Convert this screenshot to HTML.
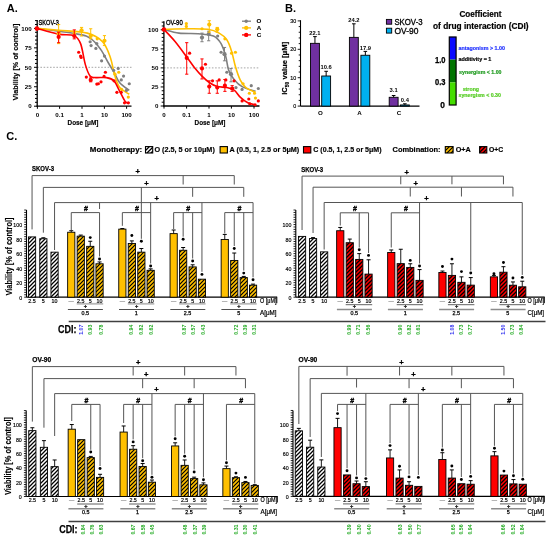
<!DOCTYPE html>
<html><head><meta charset="utf-8"><style>
html,body{margin:0;padding:0;background:#fff;}
svg{display:block;font-family:"Liberation Sans", sans-serif;will-change:transform;}
</style></head><body>
<svg width="550" height="538" viewBox="0 0 550 538">
<rect width="550" height="538" fill="#fff"/>
<text x="6.80" y="11.70" font-size="11.0" text-anchor="start" font-weight="bold" fill="#000" >A.</text>
<text x="285.00" y="11.70" font-size="11.0" text-anchor="start" font-weight="bold" fill="#000" >B.</text>
<text x="6.20" y="140.40" font-size="11.0" text-anchor="start" font-weight="bold" fill="#000" >C.</text>
<line x1="37.20" y1="67.30" x2="131.50" y2="67.30" stroke="#A6A6A6" stroke-width="1" stroke-dasharray="1.6,1.6"/>
<line x1="37.20" y1="19.90" x2="37.20" y2="106.70" stroke="#000" stroke-width="1.3" />
<line x1="36.60" y1="106.20" x2="131.50" y2="106.20" stroke="#000" stroke-width="1.3" />
<line x1="34.00" y1="106.20" x2="37.20" y2="106.20" stroke="#000" stroke-width="1.0" />
<line x1="35.00" y1="102.31" x2="37.20" y2="102.31" stroke="#000" stroke-width="1.0" />
<line x1="35.00" y1="98.42" x2="37.20" y2="98.42" stroke="#000" stroke-width="1.0" />
<line x1="35.00" y1="94.53" x2="37.20" y2="94.53" stroke="#000" stroke-width="1.0" />
<line x1="35.00" y1="90.64" x2="37.20" y2="90.64" stroke="#000" stroke-width="1.0" />
<line x1="34.00" y1="86.75" x2="37.20" y2="86.75" stroke="#000" stroke-width="1.0" />
<line x1="35.00" y1="82.86" x2="37.20" y2="82.86" stroke="#000" stroke-width="1.0" />
<line x1="35.00" y1="78.97" x2="37.20" y2="78.97" stroke="#000" stroke-width="1.0" />
<line x1="35.00" y1="75.08" x2="37.20" y2="75.08" stroke="#000" stroke-width="1.0" />
<line x1="35.00" y1="71.19" x2="37.20" y2="71.19" stroke="#000" stroke-width="1.0" />
<line x1="34.00" y1="67.30" x2="37.20" y2="67.30" stroke="#000" stroke-width="1.0" />
<line x1="35.00" y1="63.41" x2="37.20" y2="63.41" stroke="#000" stroke-width="1.0" />
<line x1="35.00" y1="59.52" x2="37.20" y2="59.52" stroke="#000" stroke-width="1.0" />
<line x1="35.00" y1="55.63" x2="37.20" y2="55.63" stroke="#000" stroke-width="1.0" />
<line x1="35.00" y1="51.74" x2="37.20" y2="51.74" stroke="#000" stroke-width="1.0" />
<line x1="34.00" y1="47.85" x2="37.20" y2="47.85" stroke="#000" stroke-width="1.0" />
<line x1="35.00" y1="43.96" x2="37.20" y2="43.96" stroke="#000" stroke-width="1.0" />
<line x1="35.00" y1="40.07" x2="37.20" y2="40.07" stroke="#000" stroke-width="1.0" />
<line x1="35.00" y1="36.18" x2="37.20" y2="36.18" stroke="#000" stroke-width="1.0" />
<line x1="35.00" y1="32.29" x2="37.20" y2="32.29" stroke="#000" stroke-width="1.0" />
<line x1="34.00" y1="28.40" x2="37.20" y2="28.40" stroke="#000" stroke-width="1.0" />
<line x1="35.00" y1="24.51" x2="37.20" y2="24.51" stroke="#000" stroke-width="1.0" />
<line x1="35.00" y1="20.62" x2="37.20" y2="20.62" stroke="#000" stroke-width="1.0" />
<text x="31.70" y="108.40" font-size="6.2" text-anchor="end" font-weight="bold" fill="#000" >0</text>
<text x="31.70" y="88.95" font-size="6.2" text-anchor="end" font-weight="bold" fill="#000" >25</text>
<text x="31.70" y="69.50" font-size="6.2" text-anchor="end" font-weight="bold" fill="#000" >50</text>
<text x="31.70" y="50.05" font-size="6.2" text-anchor="end" font-weight="bold" fill="#000" >75</text>
<text x="31.70" y="30.60" font-size="6.2" text-anchor="end" font-weight="bold" fill="#000" >100</text>
<line x1="37.40" y1="106.20" x2="37.40" y2="108.80" stroke="#000" stroke-width="1.0" />
<text x="37.40" y="116.70" font-size="6.2" text-anchor="middle" font-weight="bold" fill="#000" >0</text>
<line x1="59.60" y1="106.20" x2="59.60" y2="108.80" stroke="#000" stroke-width="1.0" />
<text x="59.60" y="116.70" font-size="6.2" text-anchor="middle" font-weight="bold" fill="#000" >0.1</text>
<line x1="82.00" y1="106.20" x2="82.00" y2="108.80" stroke="#000" stroke-width="1.0" />
<text x="82.00" y="116.70" font-size="6.2" text-anchor="middle" font-weight="bold" fill="#000" >1</text>
<line x1="104.40" y1="106.20" x2="104.40" y2="108.80" stroke="#000" stroke-width="1.0" />
<text x="104.40" y="116.70" font-size="6.2" text-anchor="middle" font-weight="bold" fill="#000" >10</text>
<line x1="126.60" y1="106.20" x2="126.60" y2="108.80" stroke="#000" stroke-width="1.0" />
<text x="126.60" y="116.70" font-size="6.2" text-anchor="middle" font-weight="bold" fill="#000" >100</text>
<text x="83.00" y="125.20" font-size="7.2" text-anchor="middle" font-weight="bold" fill="#000" stroke="#000" stroke-width="0.15" textLength="31.00" lengthAdjust="spacingAndGlyphs" >Dose [μM]</text>
<text x="18.20" y="62.00" font-size="8.0" text-anchor="middle" font-weight="bold" fill="#000" stroke="#000" stroke-width="0.15" textLength="77.00" lengthAdjust="spacingAndGlyphs" transform="rotate(-90 18.20 62.00)" >Viability [% of control]</text>
<text x="38.60" y="24.90" font-size="7.2" text-anchor="start" font-weight="normal" fill="#000" stroke="#000" stroke-width="0.35" textLength="20.20" lengthAdjust="spacingAndGlyphs" >SKOV-3</text>
<path d="M36.68,28.36 C43.52,29.32 68.66,32.34 77.73,34.09 C86.80,35.84 87.27,36.32 91.09,38.86 C94.91,41.41 97.77,45.39 100.64,49.36 C103.50,53.34 106.05,58.91 108.27,62.73 C110.50,66.55 112.09,68.93 114.00,72.27 C115.91,75.61 117.18,79.75 119.73,82.77 C122.27,85.80 127.68,89.14 129.27,90.41" stroke="#7F7F7F" stroke-width="1.6" fill="none" />
<path d="M36.68,28.36 C40.34,28.68 50.20,29.48 58.64,30.27 C67.07,31.07 79.96,31.23 87.27,33.14 C94.59,35.05 98.73,37.75 102.55,41.73 C106.37,45.71 108.12,51.27 110.18,57.00 C112.25,62.73 113.37,71.00 114.96,76.09 C116.55,81.18 117.34,84.52 119.73,87.55 C122.12,90.57 127.68,93.12 129.27,94.23" stroke="#FFC000" stroke-width="1.6" fill="none" />
<path d="M36.68,28.36 C40.34,29.32 52.43,32.88 58.64,34.09 C64.84,35.30 70.25,34.03 73.91,35.62 C77.57,37.21 78.68,38.80 80.59,43.64 C82.50,48.47 83.77,59.23 85.36,64.64 C86.96,70.05 88.39,73.93 90.14,76.09 C91.89,78.26 93.16,77.36 95.86,77.62 C98.57,77.87 103.34,77.08 106.37,77.62 C109.39,78.16 111.77,78.57 114.00,80.86 C116.23,83.16 117.82,87.86 119.73,91.37 C121.64,94.87 123.87,99.89 125.46,101.87 C127.05,103.84 128.64,102.98 129.27,103.20" stroke="#FF0000" stroke-width="1.6" fill="none" />
<circle cx="90.14" cy="41.73" r="1.6" fill="#7F7F7F" />
<circle cx="91.09" cy="45.55" r="1.6" fill="#7F7F7F" />
<circle cx="96.82" cy="43.64" r="1.6" fill="#7F7F7F" />
<circle cx="95.86" cy="48.41" r="1.6" fill="#7F7F7F" />
<circle cx="101.59" cy="60.82" r="1.6" fill="#7F7F7F" />
<circle cx="104.46" cy="56.05" r="1.6" fill="#7F7F7F" />
<circle cx="113.62" cy="70.36" r="1.6" fill="#7F7F7F" />
<circle cx="118.20" cy="68.46" r="1.6" fill="#7F7F7F" />
<circle cx="121.26" cy="79.91" r="1.6" fill="#7F7F7F" />
<circle cx="123.55" cy="76.09" r="1.6" fill="#7F7F7F" />
<circle cx="126.41" cy="90.41" r="1.6" fill="#7F7F7F" />
<circle cx="129.27" cy="83.73" r="1.6" fill="#7F7F7F" />
<line x1="58.64" y1="24.55" x2="58.64" y2="43.64" stroke="#FFC000" stroke-width="1.0" />
<line x1="57.04" y1="24.55" x2="60.24" y2="24.55" stroke="#FFC000" stroke-width="1.0" />
<line x1="57.04" y1="43.64" x2="60.24" y2="43.64" stroke="#FFC000" stroke-width="1.0" />
<circle cx="58.64" cy="33.14" r="2.1" fill="#FFC000" />
<circle cx="74.29" cy="33.14" r="1.6" fill="#FFC000" />
<line x1="81.55" y1="27.41" x2="81.55" y2="36.00" stroke="#FFC000" stroke-width="1.0" />
<line x1="79.95" y1="27.41" x2="83.15" y2="27.41" stroke="#FFC000" stroke-width="1.0" />
<line x1="79.95" y1="36.00" x2="83.15" y2="36.00" stroke="#FFC000" stroke-width="1.0" />
<circle cx="81.55" cy="30.27" r="2.1" fill="#FFC000" />
<line x1="90.71" y1="28.75" x2="90.71" y2="38.86" stroke="#FFC000" stroke-width="1.0" />
<line x1="89.11" y1="28.75" x2="92.31" y2="28.75" stroke="#FFC000" stroke-width="1.0" />
<line x1="89.11" y1="38.86" x2="92.31" y2="38.86" stroke="#FFC000" stroke-width="1.0" />
<circle cx="90.71" cy="36.00" r="2.1" fill="#FFC000" />
<circle cx="97.20" cy="38.86" r="1.6" fill="#FFC000" />
<line x1="104.46" y1="35.62" x2="104.46" y2="45.55" stroke="#FFC000" stroke-width="1.0" />
<line x1="102.86" y1="35.62" x2="106.06" y2="35.62" stroke="#FFC000" stroke-width="1.0" />
<line x1="102.86" y1="45.55" x2="106.06" y2="45.55" stroke="#FFC000" stroke-width="1.0" />
<circle cx="104.46" cy="40.77" r="2.1" fill="#FFC000" />
<circle cx="114.96" cy="74.18" r="1.6" fill="#FFC000" />
<circle cx="118.77" cy="72.27" r="1.6" fill="#FFC000" />
<circle cx="121.64" cy="89.46" r="1.6" fill="#FFC000" />
<circle cx="128.32" cy="97.09" r="1.6" fill="#FFC000" />
<line x1="58.64" y1="32.18" x2="58.64" y2="42.68" stroke="#FF0000" stroke-width="1.0" />
<line x1="57.04" y1="32.18" x2="60.24" y2="32.18" stroke="#FF0000" stroke-width="1.0" />
<line x1="57.04" y1="42.68" x2="60.24" y2="42.68" stroke="#FF0000" stroke-width="1.0" />
<circle cx="58.64" cy="36.95" r="2.1" fill="#FF0000" />
<line x1="74.29" y1="29.89" x2="74.29" y2="38.86" stroke="#FF0000" stroke-width="1.0" />
<line x1="72.69" y1="29.89" x2="75.89" y2="29.89" stroke="#FF0000" stroke-width="1.0" />
<line x1="72.69" y1="38.86" x2="75.89" y2="38.86" stroke="#FF0000" stroke-width="1.0" />
<circle cx="74.29" cy="36.00" r="2.1" fill="#FF0000" />
<circle cx="81.16" cy="57.38" r="1.6" fill="#FF0000" />
<circle cx="80.59" cy="56.05" r="1.6" fill="#FF0000" />
<circle cx="78.68" cy="52.23" r="1.6" fill="#FF0000" />
<circle cx="86.32" cy="77.05" r="1.6" fill="#FF0000" />
<line x1="90.71" y1="77.05" x2="90.71" y2="81.82" stroke="#FF0000" stroke-width="1.0" />
<line x1="89.11" y1="77.05" x2="92.31" y2="77.05" stroke="#FF0000" stroke-width="1.0" />
<line x1="89.11" y1="81.82" x2="92.31" y2="81.82" stroke="#FF0000" stroke-width="1.0" />
<circle cx="90.71" cy="79.91" r="2.1" fill="#FF0000" />
<circle cx="96.82" cy="84.11" r="1.6" fill="#FF0000" />
<circle cx="98.35" cy="83.73" r="1.6" fill="#FF0000" />
<circle cx="101.02" cy="81.82" r="1.6" fill="#FF0000" />
<circle cx="104.07" cy="76.47" r="1.6" fill="#FF0000" />
<circle cx="105.41" cy="72.27" r="1.6" fill="#FF0000" />
<circle cx="114.00" cy="80.86" r="1.6" fill="#FF0000" />
<circle cx="116.87" cy="92.32" r="1.6" fill="#FF0000" />
<circle cx="121.26" cy="92.32" r="1.6" fill="#FF0000" />
<circle cx="124.50" cy="102.82" r="1.6" fill="#FF0000" />
<circle cx="128.32" cy="102.82" r="1.6" fill="#FF0000" />
<circle cx="36.90" cy="28.60" r="2.3" fill="#FF0000" />
<line x1="163.90" y1="67.90" x2="259.50" y2="67.90" stroke="#A6A6A6" stroke-width="1" stroke-dasharray="1.6,1.6"/>
<line x1="163.90" y1="21.30" x2="163.90" y2="106.50" stroke="#000" stroke-width="1.3" />
<line x1="163.30" y1="106.00" x2="259.50" y2="106.00" stroke="#000" stroke-width="1.3" />
<line x1="160.70" y1="106.00" x2="163.90" y2="106.00" stroke="#000" stroke-width="1.0" />
<line x1="161.70" y1="102.19" x2="163.90" y2="102.19" stroke="#000" stroke-width="1.0" />
<line x1="161.70" y1="98.38" x2="163.90" y2="98.38" stroke="#000" stroke-width="1.0" />
<line x1="161.70" y1="94.57" x2="163.90" y2="94.57" stroke="#000" stroke-width="1.0" />
<line x1="161.70" y1="90.76" x2="163.90" y2="90.76" stroke="#000" stroke-width="1.0" />
<line x1="160.70" y1="86.95" x2="163.90" y2="86.95" stroke="#000" stroke-width="1.0" />
<line x1="161.70" y1="83.14" x2="163.90" y2="83.14" stroke="#000" stroke-width="1.0" />
<line x1="161.70" y1="79.33" x2="163.90" y2="79.33" stroke="#000" stroke-width="1.0" />
<line x1="161.70" y1="75.52" x2="163.90" y2="75.52" stroke="#000" stroke-width="1.0" />
<line x1="161.70" y1="71.71" x2="163.90" y2="71.71" stroke="#000" stroke-width="1.0" />
<line x1="160.70" y1="67.90" x2="163.90" y2="67.90" stroke="#000" stroke-width="1.0" />
<line x1="161.70" y1="64.09" x2="163.90" y2="64.09" stroke="#000" stroke-width="1.0" />
<line x1="161.70" y1="60.28" x2="163.90" y2="60.28" stroke="#000" stroke-width="1.0" />
<line x1="161.70" y1="56.47" x2="163.90" y2="56.47" stroke="#000" stroke-width="1.0" />
<line x1="161.70" y1="52.66" x2="163.90" y2="52.66" stroke="#000" stroke-width="1.0" />
<line x1="160.70" y1="48.85" x2="163.90" y2="48.85" stroke="#000" stroke-width="1.0" />
<line x1="161.70" y1="45.04" x2="163.90" y2="45.04" stroke="#000" stroke-width="1.0" />
<line x1="161.70" y1="41.23" x2="163.90" y2="41.23" stroke="#000" stroke-width="1.0" />
<line x1="161.70" y1="37.42" x2="163.90" y2="37.42" stroke="#000" stroke-width="1.0" />
<line x1="161.70" y1="33.61" x2="163.90" y2="33.61" stroke="#000" stroke-width="1.0" />
<line x1="160.70" y1="29.80" x2="163.90" y2="29.80" stroke="#000" stroke-width="1.0" />
<line x1="161.70" y1="25.99" x2="163.90" y2="25.99" stroke="#000" stroke-width="1.0" />
<line x1="161.70" y1="22.18" x2="163.90" y2="22.18" stroke="#000" stroke-width="1.0" />
<text x="158.40" y="108.20" font-size="6.2" text-anchor="end" font-weight="bold" fill="#000" >0</text>
<text x="158.40" y="89.15" font-size="6.2" text-anchor="end" font-weight="bold" fill="#000" >25</text>
<text x="158.40" y="70.10" font-size="6.2" text-anchor="end" font-weight="bold" fill="#000" >50</text>
<text x="158.40" y="51.05" font-size="6.2" text-anchor="end" font-weight="bold" fill="#000" >75</text>
<text x="158.40" y="32.00" font-size="6.2" text-anchor="end" font-weight="bold" fill="#000" >100</text>
<line x1="164.00" y1="106.00" x2="164.00" y2="108.60" stroke="#000" stroke-width="1.0" />
<text x="164.00" y="116.50" font-size="6.2" text-anchor="middle" font-weight="bold" fill="#000" >0</text>
<line x1="186.60" y1="106.00" x2="186.60" y2="108.60" stroke="#000" stroke-width="1.0" />
<text x="186.60" y="116.50" font-size="6.2" text-anchor="middle" font-weight="bold" fill="#000" >0.1</text>
<line x1="209.00" y1="106.00" x2="209.00" y2="108.60" stroke="#000" stroke-width="1.0" />
<text x="209.00" y="116.50" font-size="6.2" text-anchor="middle" font-weight="bold" fill="#000" >1</text>
<line x1="231.40" y1="106.00" x2="231.40" y2="108.60" stroke="#000" stroke-width="1.0" />
<text x="231.40" y="116.50" font-size="6.2" text-anchor="middle" font-weight="bold" fill="#000" >10</text>
<line x1="254.00" y1="106.00" x2="254.00" y2="108.60" stroke="#000" stroke-width="1.0" />
<text x="254.00" y="116.50" font-size="6.2" text-anchor="middle" font-weight="bold" fill="#000" >100</text>
<text x="210.00" y="125.00" font-size="7.2" text-anchor="middle" font-weight="bold" fill="#000" stroke="#000" stroke-width="0.15" textLength="31.00" lengthAdjust="spacingAndGlyphs" >Dose [μM]</text>
<text x="165.90" y="24.90" font-size="7.2" text-anchor="start" font-weight="normal" fill="#000" stroke="#000" stroke-width="0.35" textLength="16.80" lengthAdjust="spacingAndGlyphs" >OV-90</text>
<path d="M163.82,29.32 C166.36,29.95 173.36,32.40 179.09,33.14 C184.82,33.87 192.46,33.23 198.18,33.71 C203.91,34.19 209.64,34.35 213.46,36.00 C217.27,37.65 219.02,40.14 221.09,43.64 C223.16,47.14 224.59,52.55 225.86,57.00 C227.14,61.46 227.30,66.55 228.73,70.36 C230.16,74.18 232.23,77.21 234.46,79.91 C236.68,82.61 238.59,84.68 242.09,86.59 C245.59,88.50 253.23,90.57 255.46,91.37" stroke="#7F7F7F" stroke-width="1.6" fill="none" />
<path d="M163.82,29.32 C167.95,29.22 181.32,28.75 188.64,28.75 C195.96,28.75 202.64,28.59 207.73,29.32 C212.82,30.05 216.00,31.39 219.18,33.14 C222.36,34.89 224.75,36.80 226.82,39.82 C228.89,42.84 230.16,46.82 231.59,51.27 C233.02,55.73 233.98,61.77 235.41,66.55 C236.84,71.32 238.43,76.41 240.18,79.91 C241.93,83.41 243.37,85.48 245.91,87.55 C248.46,89.61 253.87,91.52 255.46,92.32" stroke="#FFC000" stroke-width="1.6" fill="none" />
<path d="M163.82,29.32 C165.73,31.39 171.45,37.11 175.27,41.73 C179.09,46.34 183.55,52.71 186.73,57.00 C189.91,61.30 191.82,64.32 194.36,67.50 C196.91,70.68 199.46,73.55 202.00,76.09 C204.55,78.64 207.09,81.02 209.64,82.77 C212.18,84.52 214.41,85.80 217.27,86.59 C220.14,87.39 223.96,86.91 226.82,87.55 C229.68,88.18 232.23,88.82 234.46,90.41 C236.68,92.00 237.96,95.02 240.18,97.09 C242.41,99.16 245.27,101.55 247.82,102.82 C250.37,104.09 254.18,104.41 255.46,104.73" stroke="#FF0000" stroke-width="1.6" fill="none" />
<line x1="202.00" y1="33.14" x2="202.00" y2="41.73" stroke="#7F7F7F" stroke-width="1.0" />
<line x1="200.40" y1="33.14" x2="203.60" y2="33.14" stroke="#7F7F7F" stroke-width="1.0" />
<line x1="200.40" y1="41.73" x2="203.60" y2="41.73" stroke="#7F7F7F" stroke-width="1.0" />
<circle cx="202.00" cy="37.53" r="2.1" fill="#7F7F7F" />
<line x1="208.68" y1="31.23" x2="208.68" y2="40.77" stroke="#7F7F7F" stroke-width="1.0" />
<line x1="207.08" y1="31.23" x2="210.28" y2="31.23" stroke="#7F7F7F" stroke-width="1.0" />
<line x1="207.08" y1="40.77" x2="210.28" y2="40.77" stroke="#7F7F7F" stroke-width="1.0" />
<circle cx="208.68" cy="34.09" r="2.1" fill="#7F7F7F" />
<circle cx="217.66" cy="36.00" r="1.6" fill="#7F7F7F" />
<circle cx="221.09" cy="52.23" r="1.6" fill="#7F7F7F" />
<line x1="224.53" y1="47.46" x2="224.53" y2="60.82" stroke="#7F7F7F" stroke-width="1.0" />
<line x1="222.93" y1="47.46" x2="226.13" y2="47.46" stroke="#7F7F7F" stroke-width="1.0" />
<line x1="222.93" y1="60.82" x2="226.13" y2="60.82" stroke="#7F7F7F" stroke-width="1.0" />
<circle cx="224.53" cy="54.14" r="2.1" fill="#7F7F7F" />
<circle cx="226.82" cy="72.27" r="1.6" fill="#7F7F7F" />
<line x1="231.02" y1="68.46" x2="231.02" y2="81.82" stroke="#7F7F7F" stroke-width="1.0" />
<line x1="229.42" y1="68.46" x2="232.62" y2="68.46" stroke="#7F7F7F" stroke-width="1.0" />
<line x1="229.42" y1="81.82" x2="232.62" y2="81.82" stroke="#7F7F7F" stroke-width="1.0" />
<circle cx="231.02" cy="74.18" r="2.1" fill="#7F7F7F" />
<circle cx="235.98" cy="87.55" r="1.6" fill="#7F7F7F" />
<circle cx="242.09" cy="89.46" r="1.6" fill="#7F7F7F" />
<circle cx="251.26" cy="85.64" r="1.6" fill="#7F7F7F" />
<circle cx="258.32" cy="88.50" r="1.6" fill="#7F7F7F" />
<circle cx="186.35" cy="23.59" r="1.6" fill="#FFC000" />
<circle cx="186.35" cy="26.45" r="1.6" fill="#FFC000" />
<circle cx="202.00" cy="28.75" r="1.6" fill="#FFC000" />
<line x1="209.26" y1="20.73" x2="209.26" y2="32.18" stroke="#FFC000" stroke-width="1.0" />
<line x1="207.66" y1="20.73" x2="210.86" y2="20.73" stroke="#FFC000" stroke-width="1.0" />
<line x1="207.66" y1="32.18" x2="210.86" y2="32.18" stroke="#FFC000" stroke-width="1.0" />
<circle cx="209.26" cy="24.55" r="2.1" fill="#FFC000" />
<line x1="217.27" y1="27.41" x2="217.27" y2="32.18" stroke="#FFC000" stroke-width="1.0" />
<line x1="215.67" y1="27.41" x2="218.87" y2="27.41" stroke="#FFC000" stroke-width="1.0" />
<line x1="215.67" y1="32.18" x2="218.87" y2="32.18" stroke="#FFC000" stroke-width="1.0" />
<circle cx="217.27" cy="29.32" r="2.1" fill="#FFC000" />
<circle cx="224.91" cy="38.86" r="1.6" fill="#FFC000" />
<circle cx="231.59" cy="53.18" r="1.6" fill="#FFC000" />
<circle cx="235.41" cy="52.23" r="1.6" fill="#FFC000" />
<circle cx="243.05" cy="83.73" r="1.6" fill="#FFC000" />
<circle cx="249.35" cy="93.27" r="1.6" fill="#FFC000" />
<circle cx="254.50" cy="93.27" r="1.6" fill="#FFC000" />
<circle cx="255.46" cy="98.05" r="1.6" fill="#FFC000" />
<line x1="186.73" y1="42.68" x2="186.73" y2="74.18" stroke="#FF0000" stroke-width="1.0" />
<line x1="185.13" y1="42.68" x2="188.33" y2="42.68" stroke="#FF0000" stroke-width="1.0" />
<line x1="185.13" y1="74.18" x2="188.33" y2="74.18" stroke="#FF0000" stroke-width="1.0" />
<circle cx="186.73" cy="57.96" r="2.1" fill="#FF0000" />
<circle cx="189.59" cy="53.18" r="1.6" fill="#FF0000" />
<line x1="202.00" y1="58.91" x2="202.00" y2="78.96" stroke="#FF0000" stroke-width="1.0" />
<line x1="200.40" y1="58.91" x2="203.60" y2="58.91" stroke="#FF0000" stroke-width="1.0" />
<line x1="200.40" y1="78.96" x2="203.60" y2="78.96" stroke="#FF0000" stroke-width="1.0" />
<circle cx="202.00" cy="68.46" r="2.1" fill="#FF0000" />
<circle cx="205.44" cy="64.26" r="1.6" fill="#FF0000" />
<line x1="209.26" y1="80.86" x2="209.26" y2="93.27" stroke="#FF0000" stroke-width="1.0" />
<line x1="207.66" y1="80.86" x2="210.86" y2="80.86" stroke="#FF0000" stroke-width="1.0" />
<line x1="207.66" y1="93.27" x2="210.86" y2="93.27" stroke="#FF0000" stroke-width="1.0" />
<circle cx="209.26" cy="86.59" r="2.1" fill="#FF0000" />
<circle cx="212.50" cy="80.86" r="1.6" fill="#FF0000" />
<line x1="217.27" y1="80.86" x2="217.27" y2="93.27" stroke="#FF0000" stroke-width="1.0" />
<line x1="215.67" y1="80.86" x2="218.87" y2="80.86" stroke="#FF0000" stroke-width="1.0" />
<line x1="215.67" y1="93.27" x2="218.87" y2="93.27" stroke="#FF0000" stroke-width="1.0" />
<circle cx="217.27" cy="87.55" r="2.1" fill="#FF0000" />
<circle cx="219.18" cy="79.91" r="1.6" fill="#FF0000" />
<line x1="224.91" y1="79.53" x2="224.91" y2="91.37" stroke="#FF0000" stroke-width="1.0" />
<line x1="223.31" y1="79.53" x2="226.51" y2="79.53" stroke="#FF0000" stroke-width="1.0" />
<line x1="223.31" y1="91.37" x2="226.51" y2="91.37" stroke="#FF0000" stroke-width="1.0" />
<circle cx="224.91" cy="85.64" r="2.1" fill="#FF0000" />
<circle cx="225.86" cy="79.91" r="1.6" fill="#FF0000" />
<line x1="232.16" y1="85.64" x2="232.16" y2="91.37" stroke="#FF0000" stroke-width="1.0" />
<line x1="230.56" y1="85.64" x2="233.76" y2="85.64" stroke="#FF0000" stroke-width="1.0" />
<line x1="230.56" y1="91.37" x2="233.76" y2="91.37" stroke="#FF0000" stroke-width="1.0" />
<circle cx="232.16" cy="88.50" r="2.1" fill="#FF0000" />
<circle cx="234.07" cy="80.86" r="1.6" fill="#FF0000" />
<circle cx="242.09" cy="100.91" r="1.6" fill="#FF0000" />
<circle cx="248.77" cy="99.00" r="1.6" fill="#FF0000" />
<circle cx="249.73" cy="103.77" r="1.6" fill="#FF0000" />
<circle cx="255.07" cy="104.73" r="1.6" fill="#FF0000" />
<circle cx="258.32" cy="100.91" r="1.6" fill="#FF0000" />
<circle cx="163.90" cy="29.50" r="2.3" fill="#FF0000" />
<line x1="242.00" y1="21.20" x2="251.00" y2="21.20" stroke="#7F7F7F" stroke-width="1.3" />
<circle cx="246.20" cy="21.20" r="1.7" fill="#7F7F7F" />
<text x="258.90" y="23.40" font-size="6.2" text-anchor="middle" font-weight="bold" fill="#000" stroke="#000" stroke-width="0.1" >O</text>
<line x1="242.00" y1="27.90" x2="251.00" y2="27.90" stroke="#FFC000" stroke-width="1.3" />
<circle cx="246.20" cy="27.90" r="2.1" fill="#FFC000" />
<text x="258.90" y="30.10" font-size="6.2" text-anchor="middle" font-weight="bold" fill="#000" stroke="#000" stroke-width="0.1" >A</text>
<line x1="242.00" y1="34.90" x2="251.00" y2="34.90" stroke="#FF0000" stroke-width="1.3" />
<circle cx="246.20" cy="34.90" r="2.2" fill="#FF0000" />
<text x="258.90" y="37.10" font-size="6.2" text-anchor="middle" font-weight="bold" fill="#000" stroke="#000" stroke-width="0.1" >C</text>
<line x1="300.50" y1="20.20" x2="300.50" y2="106.10" stroke="#000" stroke-width="1.1" />
<line x1="300.50" y1="106.10" x2="419.50" y2="106.10" stroke="#000" stroke-width="1.1" />
<line x1="297.70" y1="106.10" x2="300.50" y2="106.10" stroke="#000" stroke-width="0.9" />
<line x1="298.70" y1="100.42" x2="300.50" y2="100.42" stroke="#000" stroke-width="0.9" />
<line x1="298.70" y1="94.74" x2="300.50" y2="94.74" stroke="#000" stroke-width="0.9" />
<line x1="298.70" y1="89.06" x2="300.50" y2="89.06" stroke="#000" stroke-width="0.9" />
<line x1="298.70" y1="83.38" x2="300.50" y2="83.38" stroke="#000" stroke-width="0.9" />
<line x1="297.70" y1="77.70" x2="300.50" y2="77.70" stroke="#000" stroke-width="0.9" />
<line x1="298.70" y1="72.02" x2="300.50" y2="72.02" stroke="#000" stroke-width="0.9" />
<line x1="298.70" y1="66.34" x2="300.50" y2="66.34" stroke="#000" stroke-width="0.9" />
<line x1="298.70" y1="60.66" x2="300.50" y2="60.66" stroke="#000" stroke-width="0.9" />
<line x1="298.70" y1="54.98" x2="300.50" y2="54.98" stroke="#000" stroke-width="0.9" />
<line x1="297.70" y1="49.30" x2="300.50" y2="49.30" stroke="#000" stroke-width="0.9" />
<line x1="298.70" y1="43.62" x2="300.50" y2="43.62" stroke="#000" stroke-width="0.9" />
<line x1="298.70" y1="37.94" x2="300.50" y2="37.94" stroke="#000" stroke-width="0.9" />
<line x1="298.70" y1="32.26" x2="300.50" y2="32.26" stroke="#000" stroke-width="0.9" />
<line x1="298.70" y1="26.58" x2="300.50" y2="26.58" stroke="#000" stroke-width="0.9" />
<line x1="297.70" y1="20.90" x2="300.50" y2="20.90" stroke="#000" stroke-width="0.9" />
<text x="296.20" y="108.10" font-size="5.4" text-anchor="end" font-weight="normal" fill="#000" stroke="#000" stroke-width="0.15" >0</text>
<text x="296.20" y="79.70" font-size="5.4" text-anchor="end" font-weight="normal" fill="#000" stroke="#000" stroke-width="0.15" >10</text>
<text x="296.20" y="51.30" font-size="5.4" text-anchor="end" font-weight="normal" fill="#000" stroke="#000" stroke-width="0.15" >20</text>
<text x="296.20" y="22.90" font-size="5.4" text-anchor="end" font-weight="normal" fill="#000" stroke="#000" stroke-width="0.15" >30</text>
<text x="286.8" y="68.3" font-size="7.8" font-weight="bold" text-anchor="middle" stroke="#000" stroke-width="0.2" transform="rotate(-90 286.8 68.3)" textLength="53" lengthAdjust="spacingAndGlyphs">IC<tspan font-size="5" dy="1.8">50</tspan><tspan dy="-1.8"> value [μM]</tspan></text>
<line x1="314.95" y1="36.60" x2="314.95" y2="43.34" stroke="#000" stroke-width="1.0" />
<line x1="313.15" y1="36.60" x2="316.75" y2="36.60" stroke="#000" stroke-width="1.0" />
<rect x="310.50" y="43.34" width="8.90" height="62.76" fill="#7030A0" stroke="#000" stroke-width="0.9" />
<text x="314.95" y="34.80" font-size="5.8" text-anchor="middle" font-weight="bold" fill="#000" >22.1</text>
<line x1="326.15" y1="71.30" x2="326.15" y2="76.00" stroke="#000" stroke-width="1.0" />
<line x1="324.35" y1="71.30" x2="327.95" y2="71.30" stroke="#000" stroke-width="1.0" />
<rect x="321.70" y="76.00" width="8.90" height="30.10" fill="#00B0F0" stroke="#000" stroke-width="0.9" />
<text x="326.15" y="69.00" font-size="5.8" text-anchor="middle" font-weight="bold" fill="#000" >10.6</text>
<line x1="353.85" y1="23.80" x2="353.85" y2="37.37" stroke="#000" stroke-width="1.0" />
<line x1="352.05" y1="23.80" x2="355.65" y2="23.80" stroke="#000" stroke-width="1.0" />
<rect x="349.40" y="37.37" width="8.90" height="68.73" fill="#7030A0" stroke="#000" stroke-width="0.9" />
<text x="353.85" y="21.70" font-size="5.8" text-anchor="middle" font-weight="bold" fill="#000" >24.2</text>
<line x1="365.35" y1="51.40" x2="365.35" y2="55.26" stroke="#000" stroke-width="1.0" />
<line x1="363.55" y1="51.40" x2="367.15" y2="51.40" stroke="#000" stroke-width="1.0" />
<rect x="360.90" y="55.26" width="8.90" height="50.84" fill="#00B0F0" stroke="#000" stroke-width="0.9" />
<text x="365.35" y="49.70" font-size="5.8" text-anchor="middle" font-weight="bold" fill="#000" >17.9</text>
<line x1="393.65" y1="95.50" x2="393.65" y2="97.30" stroke="#000" stroke-width="1.0" />
<line x1="391.85" y1="95.50" x2="395.45" y2="95.50" stroke="#000" stroke-width="1.0" />
<rect x="389.20" y="97.30" width="8.90" height="8.80" fill="#7030A0" stroke="#000" stroke-width="0.9" />
<text x="393.65" y="92.20" font-size="5.8" text-anchor="middle" font-weight="bold" fill="#000" >3.1</text>
<line x1="404.85" y1="103.80" x2="404.85" y2="104.96" stroke="#000" stroke-width="1.0" />
<line x1="403.05" y1="103.80" x2="406.65" y2="103.80" stroke="#000" stroke-width="1.0" />
<rect x="400.40" y="104.96" width="8.90" height="1.14" fill="#00B0F0" stroke="#000" stroke-width="0.9" />
<text x="404.85" y="101.60" font-size="5.8" text-anchor="middle" font-weight="bold" fill="#000" >0.4</text>
<text x="320.50" y="114.60" font-size="6.2" text-anchor="middle" font-weight="bold" fill="#000" >O</text>
<text x="359.50" y="114.60" font-size="6.2" text-anchor="middle" font-weight="bold" fill="#000" >A</text>
<text x="399.00" y="114.60" font-size="6.2" text-anchor="middle" font-weight="bold" fill="#000" >C</text>
<rect x="386.40" y="19.40" width="5.30" height="4.80" fill="#7030A0" stroke="#000" stroke-width="0.9" />
<rect x="386.40" y="28.20" width="5.30" height="4.90" fill="#00B0F0" stroke="#000" stroke-width="0.9" />
<text x="394.40" y="25.10" font-size="8.6" text-anchor="start" font-weight="normal" fill="#000" stroke="#000" stroke-width="0.3" textLength="28.20" lengthAdjust="spacingAndGlyphs" >SKOV-3</text>
<text x="394.40" y="33.80" font-size="8.6" text-anchor="start" font-weight="normal" fill="#000" stroke="#000" stroke-width="0.3" textLength="24.00" lengthAdjust="spacingAndGlyphs" >OV-90</text>
<text x="480.50" y="16.60" font-size="8.6" text-anchor="middle" font-weight="bold" fill="#000" stroke="#000" stroke-width="0.2" textLength="42.00" lengthAdjust="spacingAndGlyphs" >Coefficient</text>
<text x="480.80" y="29.00" font-size="8.6" text-anchor="middle" font-weight="bold" fill="#000" stroke="#000" stroke-width="0.2" textLength="95.50" lengthAdjust="spacingAndGlyphs" >of drug interaction (CDI)</text>
<rect x="449.40" y="36.90" width="6.60" height="22.70" fill="#0A0AFF" stroke="none" stroke-width="1" />
<rect x="449.40" y="59.60" width="6.60" height="22.80" fill="#007400" stroke="none" stroke-width="1" />
<rect x="449.40" y="82.40" width="6.60" height="22.60" fill="#44DD00" stroke="none" stroke-width="1" />
<rect x="449.3" y="37.0" width="6.8" height="68.0" fill="none" stroke="#000" stroke-width="1.2"/>
<text x="445.50" y="63.10" font-size="8.4" text-anchor="end" font-weight="bold" fill="#000" stroke="#000" stroke-width="0.25" textLength="10.50" lengthAdjust="spacingAndGlyphs" >1.0</text>
<text x="445.50" y="85.30" font-size="8.4" text-anchor="end" font-weight="bold" fill="#000" stroke="#000" stroke-width="0.25" textLength="10.50" lengthAdjust="spacingAndGlyphs" >0.3</text>
<text x="445.00" y="107.50" font-size="8.4" text-anchor="end" font-weight="bold" fill="#000" stroke="#000" stroke-width="0.25" >0</text>
<text x="458.50" y="49.50" font-size="5.8" text-anchor="start" font-weight="bold" fill="#2233FF" stroke="#2233FF" stroke-width="0.2" textLength="46.40" lengthAdjust="spacingAndGlyphs" >antagonism &gt; 1.00</text>
<text x="458.50" y="61.20" font-size="5.8" text-anchor="start" font-weight="bold" fill="#000" stroke="#000" stroke-width="0.2" textLength="32.80" lengthAdjust="spacingAndGlyphs" >additivity = 1</text>
<text x="459.10" y="74.30" font-size="5.8" text-anchor="start" font-weight="bold" fill="#1E9A1E" stroke="#1E9A1E" stroke-width="0.2" textLength="42.40" lengthAdjust="spacingAndGlyphs" >synergism &lt; 1.00</text>
<text x="462.70" y="91.20" font-size="5.8" text-anchor="start" font-weight="bold" fill="#55CC22" stroke="#55CC22" stroke-width="0.2" textLength="16.40" lengthAdjust="spacingAndGlyphs" >strong</text>
<text x="458.50" y="97.20" font-size="5.8" text-anchor="start" font-weight="bold" fill="#55CC22" stroke="#55CC22" stroke-width="0.2" textLength="42.40" lengthAdjust="spacingAndGlyphs" >synergism &lt; 0.30</text>
<defs><pattern id="hw" patternUnits="userSpaceOnUse" width="4" height="4"><rect width="4" height="4" fill="#fff"/><path d="M-1,1 L1,-1 M0,4 L4,0 M3,5 L5,3" stroke="#000" stroke-width="1.25"/></pattern><pattern id="hy" patternUnits="userSpaceOnUse" width="4" height="4"><rect width="4" height="4" fill="#FFC000"/><path d="M-1,1 L1,-1 M0,4 L4,0 M3,5 L5,3" stroke="#000" stroke-width="1.2"/></pattern><pattern id="hr" patternUnits="userSpaceOnUse" width="4" height="4"><rect width="4" height="4" fill="#FF0000"/><path d="M-1,1 L1,-1 M0,4 L4,0 M3,5 L5,3" stroke="#000" stroke-width="1.3"/></pattern></defs>
<text x="89.80" y="151.60" font-size="8.0" text-anchor="start" font-weight="bold" fill="#000" stroke="#000" stroke-width="0.2" textLength="52.40" lengthAdjust="spacingAndGlyphs" >Monotherapy:</text>
<rect x="145.50" y="146.60" width="7.20" height="6.40" fill="url(#hw)" stroke="#000" stroke-width="1.1" />
<text x="154.40" y="151.60" font-size="6.6" text-anchor="start" font-weight="bold" fill="#000" stroke="#000" stroke-width="0.15" textLength="60.40" lengthAdjust="spacingAndGlyphs" >O (2.5, 5 or 10μM)</text>
<rect x="220.10" y="146.60" width="7.30" height="6.40" fill="#FFC000" stroke="#000" stroke-width="1.1" />
<text x="229.50" y="151.60" font-size="6.6" text-anchor="start" font-weight="bold" fill="#000" stroke="#000" stroke-width="0.15" textLength="69.80" lengthAdjust="spacingAndGlyphs" >A (0.5, 1, 2.5 or 5μM)</text>
<rect x="303.50" y="146.60" width="7.30" height="6.40" fill="#FF0000" stroke="#000" stroke-width="1.1" />
<text x="313.30" y="151.60" font-size="6.6" text-anchor="start" font-weight="bold" fill="#000" stroke="#000" stroke-width="0.15" textLength="68.30" lengthAdjust="spacingAndGlyphs" >C (0.5, 1, 2.5 or 5μM)</text>
<text x="392.50" y="151.60" font-size="8.0" text-anchor="start" font-weight="bold" fill="#000" stroke="#000" stroke-width="0.2" textLength="48.00" lengthAdjust="spacingAndGlyphs" >Combination:</text>
<rect x="445.30" y="146.60" width="7.80" height="6.40" fill="url(#hy)" stroke="#000" stroke-width="1.1" />
<text x="455.70" y="151.60" font-size="6.6" text-anchor="start" font-weight="bold" fill="#000" stroke="#000" stroke-width="0.15" textLength="15.10" lengthAdjust="spacingAndGlyphs" >O+A</text>
<rect x="479.60" y="146.60" width="7.20" height="6.40" fill="url(#hr)" stroke="#000" stroke-width="1.1" />
<text x="488.90" y="151.60" font-size="6.6" text-anchor="start" font-weight="bold" fill="#000" stroke="#000" stroke-width="0.15" textLength="14.20" lengthAdjust="spacingAndGlyphs" >O+C</text>
<text x="32.00" y="171.00" font-size="7.4" text-anchor="start" font-weight="bold" fill="#000" stroke="#000" stroke-width="0.25" textLength="22.00" lengthAdjust="spacingAndGlyphs" >SKOV-3</text>
<line x1="26.50" y1="210.02" x2="26.50" y2="297.20" stroke="#000" stroke-width="1.1" />
<line x1="24.20" y1="297.20" x2="26.50" y2="297.20" stroke="#000" stroke-width="0.85" />
<line x1="24.20" y1="294.78" x2="26.50" y2="294.78" stroke="#000" stroke-width="0.85" />
<line x1="24.20" y1="292.36" x2="26.50" y2="292.36" stroke="#000" stroke-width="0.85" />
<line x1="24.20" y1="289.94" x2="26.50" y2="289.94" stroke="#000" stroke-width="0.85" />
<line x1="24.20" y1="287.51" x2="26.50" y2="287.51" stroke="#000" stroke-width="0.85" />
<line x1="24.20" y1="285.09" x2="26.50" y2="285.09" stroke="#000" stroke-width="0.85" />
<line x1="24.20" y1="282.67" x2="26.50" y2="282.67" stroke="#000" stroke-width="0.85" />
<line x1="24.20" y1="280.25" x2="26.50" y2="280.25" stroke="#000" stroke-width="0.85" />
<line x1="24.20" y1="277.83" x2="26.50" y2="277.83" stroke="#000" stroke-width="0.85" />
<line x1="24.20" y1="275.40" x2="26.50" y2="275.40" stroke="#000" stroke-width="0.85" />
<line x1="24.20" y1="272.98" x2="26.50" y2="272.98" stroke="#000" stroke-width="0.85" />
<line x1="24.20" y1="270.56" x2="26.50" y2="270.56" stroke="#000" stroke-width="0.85" />
<line x1="24.20" y1="268.14" x2="26.50" y2="268.14" stroke="#000" stroke-width="0.85" />
<line x1="24.20" y1="265.72" x2="26.50" y2="265.72" stroke="#000" stroke-width="0.85" />
<line x1="24.20" y1="263.30" x2="26.50" y2="263.30" stroke="#000" stroke-width="0.85" />
<line x1="24.20" y1="260.88" x2="26.50" y2="260.88" stroke="#000" stroke-width="0.85" />
<line x1="24.20" y1="258.45" x2="26.50" y2="258.45" stroke="#000" stroke-width="0.85" />
<line x1="24.20" y1="256.03" x2="26.50" y2="256.03" stroke="#000" stroke-width="0.85" />
<line x1="24.20" y1="253.61" x2="26.50" y2="253.61" stroke="#000" stroke-width="0.85" />
<line x1="24.20" y1="251.19" x2="26.50" y2="251.19" stroke="#000" stroke-width="0.85" />
<line x1="24.20" y1="248.77" x2="26.50" y2="248.77" stroke="#000" stroke-width="0.85" />
<line x1="24.20" y1="246.34" x2="26.50" y2="246.34" stroke="#000" stroke-width="0.85" />
<line x1="24.20" y1="243.92" x2="26.50" y2="243.92" stroke="#000" stroke-width="0.85" />
<line x1="24.20" y1="241.50" x2="26.50" y2="241.50" stroke="#000" stroke-width="0.85" />
<line x1="24.20" y1="239.08" x2="26.50" y2="239.08" stroke="#000" stroke-width="0.85" />
<line x1="24.20" y1="236.66" x2="26.50" y2="236.66" stroke="#000" stroke-width="0.85" />
<line x1="24.20" y1="234.24" x2="26.50" y2="234.24" stroke="#000" stroke-width="0.85" />
<line x1="24.20" y1="231.81" x2="26.50" y2="231.81" stroke="#000" stroke-width="0.85" />
<line x1="24.20" y1="229.39" x2="26.50" y2="229.39" stroke="#000" stroke-width="0.85" />
<line x1="24.20" y1="226.97" x2="26.50" y2="226.97" stroke="#000" stroke-width="0.85" />
<line x1="24.20" y1="224.55" x2="26.50" y2="224.55" stroke="#000" stroke-width="0.85" />
<line x1="24.20" y1="222.13" x2="26.50" y2="222.13" stroke="#000" stroke-width="0.85" />
<line x1="24.20" y1="219.71" x2="26.50" y2="219.71" stroke="#000" stroke-width="0.85" />
<line x1="24.20" y1="217.28" x2="26.50" y2="217.28" stroke="#000" stroke-width="0.85" />
<line x1="24.20" y1="214.86" x2="26.50" y2="214.86" stroke="#000" stroke-width="0.85" />
<line x1="24.20" y1="212.44" x2="26.50" y2="212.44" stroke="#000" stroke-width="0.85" />
<line x1="24.20" y1="210.02" x2="26.50" y2="210.02" stroke="#000" stroke-width="0.85" />
<text x="22.10" y="299.70" font-size="5.3" text-anchor="end" font-weight="normal" fill="#000" stroke="#000" stroke-width="0.15" >0</text>
<text x="22.10" y="285.17" font-size="5.3" text-anchor="end" font-weight="normal" fill="#000" stroke="#000" stroke-width="0.15" >20</text>
<text x="22.10" y="270.64" font-size="5.3" text-anchor="end" font-weight="normal" fill="#000" stroke="#000" stroke-width="0.15" >40</text>
<text x="22.10" y="256.11" font-size="5.3" text-anchor="end" font-weight="normal" fill="#000" stroke="#000" stroke-width="0.15" >60</text>
<text x="22.10" y="241.58" font-size="5.3" text-anchor="end" font-weight="normal" fill="#000" stroke="#000" stroke-width="0.15" >80</text>
<text x="22.10" y="227.05" font-size="5.3" text-anchor="end" font-weight="normal" fill="#000" stroke="#000" stroke-width="0.15" >100</text>
<text x="11.60" y="256.50" font-size="8.2" text-anchor="middle" font-weight="bold" fill="#000" stroke="#000" stroke-width="0.15" textLength="78.00" lengthAdjust="spacingAndGlyphs" transform="rotate(-90 11.60 256.50)" >Viability [% of control]</text>
<line x1="26.50" y1="297.20" x2="276.80" y2="297.20" stroke="#000" stroke-width="1.2" />
<line x1="276.80" y1="296.70" x2="276.80" y2="303.20" stroke="#000" stroke-width="1.0" />
<rect x="28.45" y="236.90" width="7.20" height="60.30" fill="url(#hw)" stroke="#000" stroke-width="0.9" />
<text x="32.05" y="303.00" font-size="5.3" text-anchor="middle" font-weight="normal" fill="#000" stroke="#000" stroke-width="0.2" >2.5</text>
<line x1="43.35" y1="237.77" x2="43.35" y2="238.72" stroke="#000" stroke-width="0.9" />
<line x1="41.35" y1="237.77" x2="45.35" y2="237.77" stroke="#000" stroke-width="1.0" />
<rect x="39.75" y="238.72" width="7.20" height="58.48" fill="url(#hw)" stroke="#000" stroke-width="0.9" />
<text x="43.35" y="303.00" font-size="5.3" text-anchor="middle" font-weight="normal" fill="#000" stroke="#000" stroke-width="0.2" >5</text>
<rect x="50.95" y="252.16" width="7.20" height="45.04" fill="url(#hw)" stroke="#000" stroke-width="0.9" />
<text x="54.55" y="303.00" font-size="5.3" text-anchor="middle" font-weight="normal" fill="#000" stroke="#000" stroke-width="0.2" >10</text>
<line x1="71.25" y1="230.73" x2="71.25" y2="232.25" stroke="#000" stroke-width="0.9" />
<line x1="69.25" y1="230.73" x2="73.25" y2="230.73" stroke="#000" stroke-width="1.0" />
<rect x="67.65" y="232.25" width="7.20" height="64.95" fill="#FFC000" stroke="#000" stroke-width="0.9" />
<text x="71.25" y="303.00" font-size="5.3" text-anchor="middle" font-weight="normal" fill="#999" stroke="#999" stroke-width="0.2" >—</text>
<line x1="80.75" y1="235.08" x2="80.75" y2="236.17" stroke="#000" stroke-width="0.9" />
<line x1="78.75" y1="235.08" x2="82.75" y2="235.08" stroke="#000" stroke-width="1.0" />
<rect x="77.15" y="236.17" width="7.20" height="61.03" fill="url(#hy)" stroke="#000" stroke-width="0.9" />
<text x="80.75" y="303.00" font-size="5.3" text-anchor="middle" font-weight="normal" fill="#000" stroke="#000" stroke-width="0.2" >2.5</text>
<line x1="90.25" y1="241.26" x2="90.25" y2="246.34" stroke="#000" stroke-width="0.9" />
<line x1="88.25" y1="241.26" x2="92.25" y2="241.26" stroke="#000" stroke-width="1.0" />
<circle cx="90.25" cy="237.60" r="1.45" fill="#000" />
<rect x="86.65" y="246.34" width="7.20" height="50.86" fill="url(#hy)" stroke="#000" stroke-width="0.9" />
<text x="90.25" y="303.00" font-size="5.3" text-anchor="middle" font-weight="normal" fill="#000" stroke="#000" stroke-width="0.2" >5</text>
<line x1="99.55" y1="261.96" x2="99.55" y2="263.78" stroke="#000" stroke-width="0.9" />
<line x1="97.55" y1="261.96" x2="101.55" y2="261.96" stroke="#000" stroke-width="1.0" />
<circle cx="99.55" cy="259.00" r="1.45" fill="#000" />
<rect x="95.95" y="263.78" width="7.20" height="33.42" fill="url(#hy)" stroke="#000" stroke-width="0.9" />
<text x="99.55" y="303.00" font-size="5.3" text-anchor="middle" font-weight="normal" fill="#000" stroke="#000" stroke-width="0.2" >10</text>
<line x1="76.70" y1="303.80" x2="103.20" y2="303.80" stroke="#B8B8B8" stroke-width="1.8" />
<text x="85.45" y="308.30" font-size="5.6" text-anchor="middle" font-weight="bold" fill="#000" stroke="#000" stroke-width="0.2" >+</text>
<line x1="67.90" y1="309.50" x2="102.90" y2="309.50" stroke="#505050" stroke-width="1.0" />
<text x="85.15" y="315.10" font-size="5.4" text-anchor="middle" font-weight="normal" fill="#000" stroke="#000" stroke-width="0.25" >0.5</text>
<text x="83.20" y="329.70" font-size="6.0" text-anchor="middle" font-weight="bold" fill="#3030F0" textLength="10.00" lengthAdjust="spacingAndGlyphs" transform="rotate(-90 83.20 329.70)" >1.07</text>
<text x="92.30" y="329.70" font-size="6.0" text-anchor="middle" font-weight="bold" fill="#22AA22" textLength="10.00" lengthAdjust="spacingAndGlyphs" transform="rotate(-90 92.30 329.70)" >0.93</text>
<text x="103.20" y="329.70" font-size="6.0" text-anchor="middle" font-weight="bold" fill="#22AA22" textLength="10.00" lengthAdjust="spacingAndGlyphs" transform="rotate(-90 103.20 329.70)" >0.78</text>
<line x1="122.35" y1="228.55" x2="122.35" y2="229.13" stroke="#000" stroke-width="0.9" />
<line x1="120.35" y1="228.55" x2="124.35" y2="228.55" stroke="#000" stroke-width="1.0" />
<rect x="118.75" y="229.13" width="7.20" height="68.07" fill="#FFC000" stroke="#000" stroke-width="0.9" />
<text x="122.35" y="303.00" font-size="5.3" text-anchor="middle" font-weight="normal" fill="#999" stroke="#999" stroke-width="0.2" >—</text>
<line x1="131.85" y1="240.90" x2="131.85" y2="243.44" stroke="#000" stroke-width="0.9" />
<line x1="129.85" y1="240.90" x2="133.85" y2="240.90" stroke="#000" stroke-width="1.0" />
<circle cx="131.85" cy="235.50" r="1.45" fill="#000" />
<rect x="128.25" y="243.44" width="7.20" height="53.76" fill="url(#hy)" stroke="#000" stroke-width="0.9" />
<text x="131.85" y="303.00" font-size="5.3" text-anchor="middle" font-weight="normal" fill="#000" stroke="#000" stroke-width="0.2" >2.5</text>
<line x1="141.35" y1="248.52" x2="141.35" y2="252.16" stroke="#000" stroke-width="0.9" />
<line x1="139.35" y1="248.52" x2="143.35" y2="248.52" stroke="#000" stroke-width="1.0" />
<circle cx="141.35" cy="241.30" r="1.45" fill="#000" />
<rect x="137.75" y="252.16" width="7.20" height="45.04" fill="url(#hy)" stroke="#000" stroke-width="0.9" />
<text x="141.35" y="303.00" font-size="5.3" text-anchor="middle" font-weight="normal" fill="#000" stroke="#000" stroke-width="0.2" >5</text>
<line x1="150.65" y1="268.87" x2="150.65" y2="270.32" stroke="#000" stroke-width="0.9" />
<line x1="148.65" y1="268.87" x2="152.65" y2="268.87" stroke="#000" stroke-width="1.0" />
<circle cx="150.65" cy="266.00" r="1.45" fill="#000" />
<rect x="147.05" y="270.32" width="7.20" height="26.88" fill="url(#hy)" stroke="#000" stroke-width="0.9" />
<text x="150.65" y="303.00" font-size="5.3" text-anchor="middle" font-weight="normal" fill="#000" stroke="#000" stroke-width="0.2" >10</text>
<line x1="127.80" y1="303.80" x2="154.30" y2="303.80" stroke="#B8B8B8" stroke-width="1.8" />
<text x="136.55" y="308.30" font-size="5.6" text-anchor="middle" font-weight="bold" fill="#000" stroke="#000" stroke-width="0.2" >+</text>
<line x1="119.00" y1="309.50" x2="154.00" y2="309.50" stroke="#505050" stroke-width="1.0" />
<text x="136.25" y="315.10" font-size="5.4" text-anchor="middle" font-weight="normal" fill="#000" stroke="#000" stroke-width="0.25" >1</text>
<text x="133.20" y="329.70" font-size="6.0" text-anchor="middle" font-weight="bold" fill="#22AA22" textLength="10.00" lengthAdjust="spacingAndGlyphs" transform="rotate(-90 133.20 329.70)" >0.94</text>
<text x="143.20" y="329.70" font-size="6.0" text-anchor="middle" font-weight="bold" fill="#22AA22" textLength="10.00" lengthAdjust="spacingAndGlyphs" transform="rotate(-90 143.20 329.70)" >0.82</text>
<text x="153.20" y="329.70" font-size="6.0" text-anchor="middle" font-weight="bold" fill="#22AA22" textLength="10.00" lengthAdjust="spacingAndGlyphs" transform="rotate(-90 153.20 329.70)" >0.62</text>
<line x1="173.65" y1="230.00" x2="173.65" y2="233.63" stroke="#000" stroke-width="0.9" />
<line x1="171.65" y1="230.00" x2="175.65" y2="230.00" stroke="#000" stroke-width="1.0" />
<rect x="170.05" y="233.63" width="7.20" height="63.57" fill="#FFC000" stroke="#000" stroke-width="0.9" />
<text x="173.65" y="303.00" font-size="5.3" text-anchor="middle" font-weight="normal" fill="#999" stroke="#999" stroke-width="0.2" >—</text>
<line x1="183.15" y1="247.51" x2="183.15" y2="250.27" stroke="#000" stroke-width="0.9" />
<line x1="181.15" y1="247.51" x2="185.15" y2="247.51" stroke="#000" stroke-width="1.0" />
<circle cx="183.15" cy="239.20" r="1.45" fill="#000" />
<rect x="179.55" y="250.27" width="7.20" height="46.93" fill="url(#hy)" stroke="#000" stroke-width="0.9" />
<text x="183.15" y="303.00" font-size="5.3" text-anchor="middle" font-weight="normal" fill="#000" stroke="#000" stroke-width="0.2" >2.5</text>
<line x1="192.65" y1="264.80" x2="192.65" y2="266.90" stroke="#000" stroke-width="0.9" />
<line x1="190.65" y1="264.80" x2="194.65" y2="264.80" stroke="#000" stroke-width="1.0" />
<circle cx="192.65" cy="261.00" r="1.45" fill="#000" />
<rect x="189.05" y="266.90" width="7.20" height="30.30" fill="url(#hy)" stroke="#000" stroke-width="0.9" />
<text x="192.65" y="303.00" font-size="5.3" text-anchor="middle" font-weight="normal" fill="#000" stroke="#000" stroke-width="0.2" >5</text>
<circle cx="201.95" cy="274.40" r="1.45" fill="#000" />
<rect x="198.35" y="279.18" width="7.20" height="18.02" fill="url(#hy)" stroke="#000" stroke-width="0.9" />
<text x="201.95" y="303.00" font-size="5.3" text-anchor="middle" font-weight="normal" fill="#000" stroke="#000" stroke-width="0.2" >10</text>
<line x1="179.10" y1="303.80" x2="205.60" y2="303.80" stroke="#B8B8B8" stroke-width="1.8" />
<text x="187.85" y="308.30" font-size="5.6" text-anchor="middle" font-weight="bold" fill="#000" stroke="#000" stroke-width="0.2" >+</text>
<line x1="170.30" y1="309.50" x2="205.30" y2="309.50" stroke="#505050" stroke-width="1.0" />
<text x="187.55" y="315.10" font-size="5.4" text-anchor="middle" font-weight="normal" fill="#000" stroke="#000" stroke-width="0.25" >2.5</text>
<text x="185.60" y="329.70" font-size="6.0" text-anchor="middle" font-weight="bold" fill="#22AA22" textLength="10.00" lengthAdjust="spacingAndGlyphs" transform="rotate(-90 185.60 329.70)" >0.87</text>
<text x="195.00" y="329.70" font-size="6.0" text-anchor="middle" font-weight="bold" fill="#22AA22" textLength="10.00" lengthAdjust="spacingAndGlyphs" transform="rotate(-90 195.00 329.70)" >0.57</text>
<text x="205.00" y="329.70" font-size="6.0" text-anchor="middle" font-weight="bold" fill="#22AA22" textLength="10.00" lengthAdjust="spacingAndGlyphs" transform="rotate(-90 205.00 329.70)" >0.43</text>
<line x1="224.75" y1="234.43" x2="224.75" y2="239.52" stroke="#000" stroke-width="0.9" />
<line x1="222.75" y1="234.43" x2="226.75" y2="234.43" stroke="#000" stroke-width="1.0" />
<rect x="221.15" y="239.52" width="7.20" height="57.68" fill="#FFC000" stroke="#000" stroke-width="0.9" />
<text x="224.75" y="303.00" font-size="5.3" text-anchor="middle" font-weight="normal" fill="#999" stroke="#999" stroke-width="0.2" >—</text>
<line x1="234.25" y1="253.03" x2="234.25" y2="260.44" stroke="#000" stroke-width="0.9" />
<line x1="232.25" y1="253.03" x2="236.25" y2="253.03" stroke="#000" stroke-width="1.0" />
<circle cx="234.25" cy="248.50" r="1.45" fill="#000" />
<rect x="230.65" y="260.44" width="7.20" height="36.76" fill="url(#hy)" stroke="#000" stroke-width="0.9" />
<text x="234.25" y="303.00" font-size="5.3" text-anchor="middle" font-weight="normal" fill="#000" stroke="#000" stroke-width="0.2" >2.5</text>
<line x1="243.75" y1="276.42" x2="243.75" y2="277.58" stroke="#000" stroke-width="0.9" />
<line x1="241.75" y1="276.42" x2="245.75" y2="276.42" stroke="#000" stroke-width="1.0" />
<circle cx="243.75" cy="273.10" r="1.45" fill="#000" />
<rect x="240.15" y="277.58" width="7.20" height="19.62" fill="url(#hy)" stroke="#000" stroke-width="0.9" />
<text x="243.75" y="303.00" font-size="5.3" text-anchor="middle" font-weight="normal" fill="#000" stroke="#000" stroke-width="0.2" >5</text>
<line x1="253.05" y1="284.12" x2="253.05" y2="285.14" stroke="#000" stroke-width="0.9" />
<line x1="251.05" y1="284.12" x2="255.05" y2="284.12" stroke="#000" stroke-width="1.0" />
<circle cx="253.05" cy="279.80" r="1.45" fill="#000" />
<rect x="249.45" y="285.14" width="7.20" height="12.06" fill="url(#hy)" stroke="#000" stroke-width="0.9" />
<text x="253.05" y="303.00" font-size="5.3" text-anchor="middle" font-weight="normal" fill="#000" stroke="#000" stroke-width="0.2" >10</text>
<line x1="230.20" y1="303.80" x2="256.70" y2="303.80" stroke="#B8B8B8" stroke-width="1.8" />
<text x="238.95" y="308.30" font-size="5.6" text-anchor="middle" font-weight="bold" fill="#000" stroke="#000" stroke-width="0.2" >+</text>
<line x1="221.40" y1="309.50" x2="256.40" y2="309.50" stroke="#505050" stroke-width="1.0" />
<text x="238.65" y="315.10" font-size="5.4" text-anchor="middle" font-weight="normal" fill="#000" stroke="#000" stroke-width="0.25" >5</text>
<text x="238.30" y="329.70" font-size="6.0" text-anchor="middle" font-weight="bold" fill="#22AA22" textLength="10.00" lengthAdjust="spacingAndGlyphs" transform="rotate(-90 238.30 329.70)" >0.72</text>
<text x="246.80" y="329.70" font-size="6.0" text-anchor="middle" font-weight="bold" fill="#22AA22" textLength="10.00" lengthAdjust="spacingAndGlyphs" transform="rotate(-90 246.80 329.70)" >0.39</text>
<text x="256.50" y="329.70" font-size="6.0" text-anchor="middle" font-weight="bold" fill="#22AA22" textLength="10.00" lengthAdjust="spacingAndGlyphs" transform="rotate(-90 256.50 329.70)" >0.31</text>
<line x1="68.70" y1="321.40" x2="545.50" y2="321.40" stroke="#404040" stroke-width="1.5" />
<text x="260.00" y="303.00" font-size="6.6" text-anchor="start" font-weight="normal" fill="#000" stroke="#000" stroke-width="0.2" textLength="16.50" lengthAdjust="spacingAndGlyphs" >O [μM]</text>
<text x="260.00" y="314.80" font-size="6.6" text-anchor="start" font-weight="normal" fill="#000" stroke="#000" stroke-width="0.2" textLength="16.50" lengthAdjust="spacingAndGlyphs" >A[μM]</text>
<line x1="32.05" y1="175.60" x2="234.25" y2="175.60" stroke="#555" stroke-width="1.0" />
<line x1="32.05" y1="175.60" x2="32.05" y2="229.40" stroke="#555" stroke-width="1.0" />
<line x1="183.15" y1="175.60" x2="183.15" y2="184.50" stroke="#555" stroke-width="1.0" />
<line x1="234.25" y1="175.60" x2="234.25" y2="184.50" stroke="#555" stroke-width="1.0" />
<text x="137.70" y="174.30" font-size="7.6" text-anchor="middle" font-weight="bold" fill="#000" stroke="#000" stroke-width="0.3">+</text>
<line x1="43.35" y1="187.40" x2="243.75" y2="187.40" stroke="#555" stroke-width="1.0" />
<line x1="43.35" y1="187.40" x2="43.35" y2="232.70" stroke="#555" stroke-width="1.0" />
<line x1="141.35" y1="187.40" x2="141.35" y2="238.80" stroke="#555" stroke-width="1.0" />
<line x1="192.65" y1="187.40" x2="192.65" y2="196.80" stroke="#555" stroke-width="1.0" />
<line x1="243.75" y1="187.40" x2="243.75" y2="196.80" stroke="#555" stroke-width="1.0" />
<text x="146.50" y="186.10" font-size="7.6" text-anchor="middle" font-weight="bold" fill="#000" stroke="#000" stroke-width="0.3">+</text>
<line x1="54.55" y1="202.60" x2="253.05" y2="202.60" stroke="#555" stroke-width="1.0" />
<line x1="54.55" y1="202.60" x2="54.55" y2="250.00" stroke="#555" stroke-width="1.0" />
<line x1="99.55" y1="202.60" x2="99.55" y2="209.00" stroke="#555" stroke-width="1.0" />
<line x1="150.65" y1="202.60" x2="150.65" y2="263.50" stroke="#555" stroke-width="1.0" />
<line x1="201.95" y1="202.60" x2="201.95" y2="271.80" stroke="#555" stroke-width="1.0" />
<line x1="253.05" y1="202.60" x2="253.05" y2="277.30" stroke="#555" stroke-width="1.0" />
<text x="156.70" y="201.30" font-size="7.6" text-anchor="middle" font-weight="bold" fill="#000" stroke="#000" stroke-width="0.3">+</text>
<line x1="71.25" y1="212.60" x2="99.55" y2="212.60" stroke="#555" stroke-width="1.0" />
<line x1="71.25" y1="212.60" x2="71.25" y2="230.00" stroke="#555" stroke-width="1.0" />
<line x1="99.55" y1="212.60" x2="99.55" y2="256.50" stroke="#555" stroke-width="1.0" />
<text x="85.90" y="211.00" font-size="7.0" text-anchor="middle" font-weight="bold" fill="#000" stroke="#000" stroke-width="0.35">#</text>
<line x1="122.35" y1="212.60" x2="150.65" y2="212.60" stroke="#555" stroke-width="1.0" />
<line x1="122.35" y1="212.60" x2="122.35" y2="225.80" stroke="#555" stroke-width="1.0" />
<text x="137.00" y="211.00" font-size="7.0" text-anchor="middle" font-weight="bold" fill="#000" stroke="#000" stroke-width="0.35">#</text>
<line x1="173.65" y1="212.60" x2="201.95" y2="212.60" stroke="#555" stroke-width="1.0" />
<line x1="173.65" y1="212.60" x2="173.65" y2="229.10" stroke="#555" stroke-width="1.0" />
<text x="188.30" y="211.00" font-size="7.0" text-anchor="middle" font-weight="bold" fill="#000" stroke="#000" stroke-width="0.35">#</text>
<line x1="224.75" y1="212.60" x2="253.05" y2="212.60" stroke="#555" stroke-width="1.0" />
<line x1="224.75" y1="212.60" x2="224.75" y2="233.50" stroke="#555" stroke-width="1.0" />
<text x="239.40" y="211.00" font-size="7.0" text-anchor="middle" font-weight="bold" fill="#000" stroke="#000" stroke-width="0.35">#</text>
<line x1="183.15" y1="212.60" x2="183.15" y2="236.70" stroke="#555" stroke-width="1.0" />
<line x1="192.65" y1="212.60" x2="192.65" y2="258.50" stroke="#555" stroke-width="1.0" />
<line x1="234.25" y1="212.60" x2="234.25" y2="246.00" stroke="#555" stroke-width="1.0" />
<line x1="243.75" y1="212.60" x2="243.75" y2="270.60" stroke="#555" stroke-width="1.0" />
<text x="58.00" y="332.80" font-size="10.2" text-anchor="start" font-weight="bold" fill="#000" stroke="#000" stroke-width="0.25" textLength="18.40" lengthAdjust="spacingAndGlyphs" >CDI:</text>
<text x="301.20" y="171.60" font-size="7.4" text-anchor="start" font-weight="bold" fill="#000" stroke="#000" stroke-width="0.25" textLength="22.00" lengthAdjust="spacingAndGlyphs" >SKOV-3</text>
<line x1="295.80" y1="210.02" x2="295.80" y2="297.20" stroke="#000" stroke-width="1.1" />
<line x1="293.50" y1="297.20" x2="295.80" y2="297.20" stroke="#000" stroke-width="0.85" />
<line x1="293.50" y1="294.78" x2="295.80" y2="294.78" stroke="#000" stroke-width="0.85" />
<line x1="293.50" y1="292.36" x2="295.80" y2="292.36" stroke="#000" stroke-width="0.85" />
<line x1="293.50" y1="289.94" x2="295.80" y2="289.94" stroke="#000" stroke-width="0.85" />
<line x1="293.50" y1="287.51" x2="295.80" y2="287.51" stroke="#000" stroke-width="0.85" />
<line x1="293.50" y1="285.09" x2="295.80" y2="285.09" stroke="#000" stroke-width="0.85" />
<line x1="293.50" y1="282.67" x2="295.80" y2="282.67" stroke="#000" stroke-width="0.85" />
<line x1="293.50" y1="280.25" x2="295.80" y2="280.25" stroke="#000" stroke-width="0.85" />
<line x1="293.50" y1="277.83" x2="295.80" y2="277.83" stroke="#000" stroke-width="0.85" />
<line x1="293.50" y1="275.40" x2="295.80" y2="275.40" stroke="#000" stroke-width="0.85" />
<line x1="293.50" y1="272.98" x2="295.80" y2="272.98" stroke="#000" stroke-width="0.85" />
<line x1="293.50" y1="270.56" x2="295.80" y2="270.56" stroke="#000" stroke-width="0.85" />
<line x1="293.50" y1="268.14" x2="295.80" y2="268.14" stroke="#000" stroke-width="0.85" />
<line x1="293.50" y1="265.72" x2="295.80" y2="265.72" stroke="#000" stroke-width="0.85" />
<line x1="293.50" y1="263.30" x2="295.80" y2="263.30" stroke="#000" stroke-width="0.85" />
<line x1="293.50" y1="260.88" x2="295.80" y2="260.88" stroke="#000" stroke-width="0.85" />
<line x1="293.50" y1="258.45" x2="295.80" y2="258.45" stroke="#000" stroke-width="0.85" />
<line x1="293.50" y1="256.03" x2="295.80" y2="256.03" stroke="#000" stroke-width="0.85" />
<line x1="293.50" y1="253.61" x2="295.80" y2="253.61" stroke="#000" stroke-width="0.85" />
<line x1="293.50" y1="251.19" x2="295.80" y2="251.19" stroke="#000" stroke-width="0.85" />
<line x1="293.50" y1="248.77" x2="295.80" y2="248.77" stroke="#000" stroke-width="0.85" />
<line x1="293.50" y1="246.34" x2="295.80" y2="246.34" stroke="#000" stroke-width="0.85" />
<line x1="293.50" y1="243.92" x2="295.80" y2="243.92" stroke="#000" stroke-width="0.85" />
<line x1="293.50" y1="241.50" x2="295.80" y2="241.50" stroke="#000" stroke-width="0.85" />
<line x1="293.50" y1="239.08" x2="295.80" y2="239.08" stroke="#000" stroke-width="0.85" />
<line x1="293.50" y1="236.66" x2="295.80" y2="236.66" stroke="#000" stroke-width="0.85" />
<line x1="293.50" y1="234.24" x2="295.80" y2="234.24" stroke="#000" stroke-width="0.85" />
<line x1="293.50" y1="231.81" x2="295.80" y2="231.81" stroke="#000" stroke-width="0.85" />
<line x1="293.50" y1="229.39" x2="295.80" y2="229.39" stroke="#000" stroke-width="0.85" />
<line x1="293.50" y1="226.97" x2="295.80" y2="226.97" stroke="#000" stroke-width="0.85" />
<line x1="293.50" y1="224.55" x2="295.80" y2="224.55" stroke="#000" stroke-width="0.85" />
<line x1="293.50" y1="222.13" x2="295.80" y2="222.13" stroke="#000" stroke-width="0.85" />
<line x1="293.50" y1="219.71" x2="295.80" y2="219.71" stroke="#000" stroke-width="0.85" />
<line x1="293.50" y1="217.28" x2="295.80" y2="217.28" stroke="#000" stroke-width="0.85" />
<line x1="293.50" y1="214.86" x2="295.80" y2="214.86" stroke="#000" stroke-width="0.85" />
<line x1="293.50" y1="212.44" x2="295.80" y2="212.44" stroke="#000" stroke-width="0.85" />
<line x1="293.50" y1="210.02" x2="295.80" y2="210.02" stroke="#000" stroke-width="0.85" />
<text x="291.40" y="299.70" font-size="5.3" text-anchor="end" font-weight="normal" fill="#000" stroke="#000" stroke-width="0.15" >0</text>
<text x="291.40" y="285.17" font-size="5.3" text-anchor="end" font-weight="normal" fill="#000" stroke="#000" stroke-width="0.15" >20</text>
<text x="291.40" y="270.64" font-size="5.3" text-anchor="end" font-weight="normal" fill="#000" stroke="#000" stroke-width="0.15" >40</text>
<text x="291.40" y="256.11" font-size="5.3" text-anchor="end" font-weight="normal" fill="#000" stroke="#000" stroke-width="0.15" >60</text>
<text x="291.40" y="241.58" font-size="5.3" text-anchor="end" font-weight="normal" fill="#000" stroke="#000" stroke-width="0.15" >80</text>
<text x="291.40" y="227.05" font-size="5.3" text-anchor="end" font-weight="normal" fill="#000" stroke="#000" stroke-width="0.15" >100</text>
<line x1="295.80" y1="297.20" x2="544.30" y2="297.20" stroke="#000" stroke-width="1.2" />
<line x1="544.30" y1="296.70" x2="544.30" y2="303.20" stroke="#000" stroke-width="1.0" />
<rect x="298.45" y="236.39" width="7.20" height="60.81" fill="url(#hw)" stroke="#000" stroke-width="0.9" />
<text x="302.05" y="303.00" font-size="5.3" text-anchor="middle" font-weight="normal" fill="#000" stroke="#000" stroke-width="0.2" >2.5</text>
<line x1="313.05" y1="237.63" x2="313.05" y2="238.57" stroke="#000" stroke-width="0.9" />
<line x1="311.05" y1="237.63" x2="315.05" y2="237.63" stroke="#000" stroke-width="1.0" />
<rect x="309.45" y="238.57" width="7.20" height="58.63" fill="url(#hw)" stroke="#000" stroke-width="0.9" />
<text x="313.05" y="303.00" font-size="5.3" text-anchor="middle" font-weight="normal" fill="#000" stroke="#000" stroke-width="0.2" >5</text>
<rect x="320.55" y="251.87" width="7.20" height="45.33" fill="url(#hw)" stroke="#000" stroke-width="0.9" />
<text x="324.15" y="303.00" font-size="5.3" text-anchor="middle" font-weight="normal" fill="#000" stroke="#000" stroke-width="0.2" >10</text>
<line x1="340.25" y1="227.46" x2="340.25" y2="230.73" stroke="#000" stroke-width="0.9" />
<line x1="338.25" y1="227.46" x2="342.25" y2="227.46" stroke="#000" stroke-width="1.0" />
<rect x="336.65" y="230.73" width="7.20" height="66.47" fill="#FF0000" stroke="#000" stroke-width="0.9" />
<text x="340.25" y="303.00" font-size="5.3" text-anchor="middle" font-weight="normal" fill="#999" stroke="#999" stroke-width="0.2" >—</text>
<line x1="349.75" y1="239.08" x2="349.75" y2="242.71" stroke="#000" stroke-width="0.9" />
<line x1="347.75" y1="239.08" x2="351.75" y2="239.08" stroke="#000" stroke-width="1.0" />
<rect x="346.15" y="242.71" width="7.20" height="54.49" fill="url(#hr)" stroke="#000" stroke-width="0.9" />
<text x="349.75" y="303.00" font-size="5.3" text-anchor="middle" font-weight="normal" fill="#000" stroke="#000" stroke-width="0.2" >2.5</text>
<line x1="359.25" y1="253.61" x2="359.25" y2="259.42" stroke="#000" stroke-width="0.9" />
<line x1="357.25" y1="253.61" x2="361.25" y2="253.61" stroke="#000" stroke-width="1.0" />
<circle cx="359.25" cy="249.80" r="1.45" fill="#000" />
<rect x="355.65" y="259.42" width="7.20" height="37.78" fill="url(#hr)" stroke="#000" stroke-width="0.9" />
<text x="359.25" y="303.00" font-size="5.3" text-anchor="middle" font-weight="normal" fill="#000" stroke="#000" stroke-width="0.2" >5</text>
<line x1="368.55" y1="259.79" x2="368.55" y2="274.10" stroke="#000" stroke-width="0.9" />
<line x1="366.55" y1="259.79" x2="370.55" y2="259.79" stroke="#000" stroke-width="1.0" />
<circle cx="368.55" cy="255.40" r="1.45" fill="#000" />
<rect x="364.95" y="274.10" width="7.20" height="23.10" fill="url(#hr)" stroke="#000" stroke-width="0.9" />
<text x="368.55" y="303.00" font-size="5.3" text-anchor="middle" font-weight="normal" fill="#000" stroke="#000" stroke-width="0.2" >10</text>
<line x1="345.70" y1="304.70" x2="372.20" y2="304.70" stroke="#606060" stroke-width="1.0" />
<text x="354.45" y="308.30" font-size="5.6" text-anchor="middle" font-weight="bold" fill="#000" stroke="#000" stroke-width="0.2" >+</text>
<line x1="336.90" y1="309.50" x2="371.90" y2="309.50" stroke="#8C8C8C" stroke-width="1.5" />
<text x="354.15" y="315.10" font-size="5.4" text-anchor="middle" font-weight="normal" fill="#000" stroke="#000" stroke-width="0.25" >0.5</text>
<text x="351.40" y="329.70" font-size="6.0" text-anchor="middle" font-weight="bold" fill="#22AA22" textLength="10.00" lengthAdjust="spacingAndGlyphs" transform="rotate(-90 351.40 329.70)" >0.99</text>
<text x="360.50" y="329.70" font-size="6.0" text-anchor="middle" font-weight="bold" fill="#22AA22" textLength="10.00" lengthAdjust="spacingAndGlyphs" transform="rotate(-90 360.50 329.70)" >0.71</text>
<text x="369.60" y="329.70" font-size="6.0" text-anchor="middle" font-weight="bold" fill="#22AA22" textLength="10.00" lengthAdjust="spacingAndGlyphs" transform="rotate(-90 369.60 329.70)" >0.56</text>
<line x1="391.25" y1="249.98" x2="391.25" y2="252.45" stroke="#000" stroke-width="0.9" />
<line x1="389.25" y1="249.98" x2="393.25" y2="249.98" stroke="#000" stroke-width="1.0" />
<rect x="387.65" y="252.45" width="7.20" height="44.75" fill="#FF0000" stroke="#000" stroke-width="0.9" />
<text x="391.25" y="303.00" font-size="5.3" text-anchor="middle" font-weight="normal" fill="#999" stroke="#999" stroke-width="0.2" >—</text>
<line x1="400.75" y1="249.25" x2="400.75" y2="263.64" stroke="#000" stroke-width="0.9" />
<line x1="398.75" y1="249.25" x2="402.75" y2="249.25" stroke="#000" stroke-width="1.0" />
<rect x="397.15" y="263.64" width="7.20" height="33.56" fill="url(#hr)" stroke="#000" stroke-width="0.9" />
<text x="400.75" y="303.00" font-size="5.3" text-anchor="middle" font-weight="normal" fill="#000" stroke="#000" stroke-width="0.2" >2.5</text>
<line x1="410.25" y1="263.78" x2="410.25" y2="267.41" stroke="#000" stroke-width="0.9" />
<line x1="408.25" y1="263.78" x2="412.25" y2="263.78" stroke="#000" stroke-width="1.0" />
<circle cx="410.25" cy="260.40" r="1.45" fill="#000" />
<rect x="406.65" y="267.41" width="7.20" height="29.79" fill="url(#hr)" stroke="#000" stroke-width="0.9" />
<text x="410.25" y="303.00" font-size="5.3" text-anchor="middle" font-weight="normal" fill="#000" stroke="#000" stroke-width="0.2" >5</text>
<line x1="419.55" y1="269.59" x2="419.55" y2="280.35" stroke="#000" stroke-width="0.9" />
<line x1="417.55" y1="269.59" x2="421.55" y2="269.59" stroke="#000" stroke-width="1.0" />
<circle cx="419.55" cy="266.00" r="1.45" fill="#000" />
<rect x="415.95" y="280.35" width="7.20" height="16.85" fill="url(#hr)" stroke="#000" stroke-width="0.9" />
<text x="419.55" y="303.00" font-size="5.3" text-anchor="middle" font-weight="normal" fill="#000" stroke="#000" stroke-width="0.2" >10</text>
<line x1="396.70" y1="304.70" x2="423.20" y2="304.70" stroke="#606060" stroke-width="1.0" />
<text x="405.45" y="308.30" font-size="5.6" text-anchor="middle" font-weight="bold" fill="#000" stroke="#000" stroke-width="0.2" >+</text>
<line x1="387.90" y1="309.50" x2="422.90" y2="309.50" stroke="#8C8C8C" stroke-width="1.5" />
<text x="405.15" y="315.10" font-size="5.4" text-anchor="middle" font-weight="normal" fill="#000" stroke="#000" stroke-width="0.25" >1</text>
<text x="402.30" y="329.70" font-size="6.0" text-anchor="middle" font-weight="bold" fill="#22AA22" textLength="10.00" lengthAdjust="spacingAndGlyphs" transform="rotate(-90 402.30 329.70)" >0.90</text>
<text x="411.30" y="329.70" font-size="6.0" text-anchor="middle" font-weight="bold" fill="#22AA22" textLength="10.00" lengthAdjust="spacingAndGlyphs" transform="rotate(-90 411.30 329.70)" >0.82</text>
<text x="420.50" y="329.70" font-size="6.0" text-anchor="middle" font-weight="bold" fill="#22AA22" textLength="10.00" lengthAdjust="spacingAndGlyphs" transform="rotate(-90 420.50 329.70)" >0.61</text>
<line x1="442.45" y1="271.05" x2="442.45" y2="272.50" stroke="#000" stroke-width="0.9" />
<line x1="440.45" y1="271.05" x2="444.45" y2="271.05" stroke="#000" stroke-width="1.0" />
<circle cx="442.45" cy="266.50" r="1.45" fill="#000" />
<rect x="438.85" y="272.50" width="7.20" height="24.70" fill="#FF0000" stroke="#000" stroke-width="0.9" />
<text x="442.45" y="303.00" font-size="5.3" text-anchor="middle" font-weight="normal" fill="#999" stroke="#999" stroke-width="0.2" >—</text>
<line x1="451.95" y1="263.78" x2="451.95" y2="275.40" stroke="#000" stroke-width="0.9" />
<line x1="449.95" y1="263.78" x2="453.95" y2="263.78" stroke="#000" stroke-width="1.0" />
<circle cx="451.95" cy="259.10" r="1.45" fill="#000" />
<rect x="448.35" y="275.40" width="7.20" height="21.80" fill="url(#hr)" stroke="#000" stroke-width="0.9" />
<text x="451.95" y="303.00" font-size="5.3" text-anchor="middle" font-weight="normal" fill="#000" stroke="#000" stroke-width="0.2" >2.5</text>
<line x1="461.45" y1="276.86" x2="461.45" y2="282.31" stroke="#000" stroke-width="0.9" />
<line x1="459.45" y1="276.86" x2="463.45" y2="276.86" stroke="#000" stroke-width="1.0" />
<circle cx="461.45" cy="271.60" r="1.45" fill="#000" />
<rect x="457.85" y="282.31" width="7.20" height="14.89" fill="url(#hr)" stroke="#000" stroke-width="0.9" />
<text x="461.45" y="303.00" font-size="5.3" text-anchor="middle" font-weight="normal" fill="#000" stroke="#000" stroke-width="0.2" >5</text>
<line x1="470.75" y1="277.58" x2="470.75" y2="285.14" stroke="#000" stroke-width="0.9" />
<line x1="468.75" y1="277.58" x2="472.75" y2="277.58" stroke="#000" stroke-width="1.0" />
<circle cx="470.75" cy="273.00" r="1.45" fill="#000" />
<rect x="467.15" y="285.14" width="7.20" height="12.06" fill="url(#hr)" stroke="#000" stroke-width="0.9" />
<text x="470.75" y="303.00" font-size="5.3" text-anchor="middle" font-weight="normal" fill="#000" stroke="#000" stroke-width="0.2" >10</text>
<line x1="447.90" y1="304.70" x2="474.40" y2="304.70" stroke="#606060" stroke-width="1.0" />
<text x="456.65" y="308.30" font-size="5.6" text-anchor="middle" font-weight="bold" fill="#000" stroke="#000" stroke-width="0.2" >+</text>
<line x1="439.10" y1="309.50" x2="474.10" y2="309.50" stroke="#8C8C8C" stroke-width="1.5" />
<text x="456.35" y="315.10" font-size="5.4" text-anchor="middle" font-weight="normal" fill="#000" stroke="#000" stroke-width="0.25" >2.5</text>
<text x="454.20" y="329.70" font-size="6.0" text-anchor="middle" font-weight="bold" fill="#3030F0" textLength="10.00" lengthAdjust="spacingAndGlyphs" transform="rotate(-90 454.20 329.70)" >1.08</text>
<text x="463.00" y="329.70" font-size="6.0" text-anchor="middle" font-weight="bold" fill="#22AA22" textLength="10.00" lengthAdjust="spacingAndGlyphs" transform="rotate(-90 463.00 329.70)" >0.73</text>
<text x="471.90" y="329.70" font-size="6.0" text-anchor="middle" font-weight="bold" fill="#22AA22" textLength="10.00" lengthAdjust="spacingAndGlyphs" transform="rotate(-90 471.90 329.70)" >0.77</text>
<line x1="493.95" y1="275.40" x2="493.95" y2="276.86" stroke="#000" stroke-width="0.9" />
<line x1="491.95" y1="275.40" x2="495.95" y2="275.40" stroke="#000" stroke-width="1.0" />
<circle cx="493.95" cy="273.70" r="1.45" fill="#000" />
<rect x="490.35" y="276.86" width="7.20" height="20.34" fill="#FF0000" stroke="#000" stroke-width="0.9" />
<text x="493.95" y="303.00" font-size="5.3" text-anchor="middle" font-weight="normal" fill="#999" stroke="#999" stroke-width="0.2" >—</text>
<line x1="503.45" y1="266.69" x2="503.45" y2="272.21" stroke="#000" stroke-width="0.9" />
<line x1="501.45" y1="266.69" x2="505.45" y2="266.69" stroke="#000" stroke-width="1.0" />
<circle cx="503.45" cy="262.50" r="1.45" fill="#000" />
<rect x="499.85" y="272.21" width="7.20" height="24.99" fill="url(#hr)" stroke="#000" stroke-width="0.9" />
<text x="503.45" y="303.00" font-size="5.3" text-anchor="middle" font-weight="normal" fill="#000" stroke="#000" stroke-width="0.2" >2.5</text>
<line x1="512.95" y1="281.94" x2="512.95" y2="285.21" stroke="#000" stroke-width="0.9" />
<line x1="510.95" y1="281.94" x2="514.95" y2="281.94" stroke="#000" stroke-width="1.0" />
<circle cx="512.95" cy="278.00" r="1.45" fill="#000" />
<rect x="509.35" y="285.21" width="7.20" height="11.99" fill="url(#hr)" stroke="#000" stroke-width="0.9" />
<text x="512.95" y="303.00" font-size="5.3" text-anchor="middle" font-weight="normal" fill="#000" stroke="#000" stroke-width="0.2" >5</text>
<line x1="522.25" y1="281.22" x2="522.25" y2="286.81" stroke="#000" stroke-width="0.9" />
<line x1="520.25" y1="281.22" x2="524.25" y2="281.22" stroke="#000" stroke-width="1.0" />
<circle cx="522.25" cy="277.40" r="1.45" fill="#000" />
<rect x="518.65" y="286.81" width="7.20" height="10.39" fill="url(#hr)" stroke="#000" stroke-width="0.9" />
<text x="522.25" y="303.00" font-size="5.3" text-anchor="middle" font-weight="normal" fill="#000" stroke="#000" stroke-width="0.2" >10</text>
<line x1="499.40" y1="304.70" x2="525.90" y2="304.70" stroke="#606060" stroke-width="1.0" />
<text x="508.15" y="308.30" font-size="5.6" text-anchor="middle" font-weight="bold" fill="#000" stroke="#000" stroke-width="0.2" >+</text>
<line x1="490.60" y1="309.50" x2="525.60" y2="309.50" stroke="#8C8C8C" stroke-width="1.5" />
<text x="507.85" y="315.10" font-size="5.4" text-anchor="middle" font-weight="normal" fill="#000" stroke="#000" stroke-width="0.25" >5</text>
<text x="505.00" y="329.70" font-size="6.0" text-anchor="middle" font-weight="bold" fill="#3030F0" textLength="10.00" lengthAdjust="spacingAndGlyphs" transform="rotate(-90 505.00 329.70)" >1.50</text>
<text x="514.50" y="329.70" font-size="6.0" text-anchor="middle" font-weight="bold" fill="#22AA22" textLength="10.00" lengthAdjust="spacingAndGlyphs" transform="rotate(-90 514.50 329.70)" >0.73</text>
<text x="523.50" y="329.70" font-size="6.0" text-anchor="middle" font-weight="bold" fill="#22AA22" textLength="10.00" lengthAdjust="spacingAndGlyphs" transform="rotate(-90 523.50 329.70)" >0.84</text>
<line x1="250.00" y1="321.40" x2="250.00" y2="321.40" stroke="#404040" stroke-width="1.5" />
<text x="527.50" y="303.00" font-size="6.6" text-anchor="start" font-weight="normal" fill="#000" stroke="#000" stroke-width="0.2" textLength="16.50" lengthAdjust="spacingAndGlyphs" >O [μM]</text>
<text x="527.50" y="314.80" font-size="6.6" text-anchor="start" font-weight="normal" fill="#000" stroke="#000" stroke-width="0.2" textLength="16.50" lengthAdjust="spacingAndGlyphs" >C[μM]</text>
<line x1="302.05" y1="176.10" x2="503.45" y2="176.10" stroke="#555" stroke-width="1.0" />
<line x1="302.05" y1="176.10" x2="302.05" y2="230.00" stroke="#555" stroke-width="1.0" />
<line x1="400.75" y1="176.10" x2="400.75" y2="184.30" stroke="#555" stroke-width="1.0" />
<line x1="451.95" y1="176.10" x2="451.95" y2="184.30" stroke="#555" stroke-width="1.0" />
<line x1="503.45" y1="176.10" x2="503.45" y2="184.30" stroke="#555" stroke-width="1.0" />
<text x="406.70" y="174.80" font-size="7.6" text-anchor="middle" font-weight="bold" fill="#000" stroke="#000" stroke-width="0.3">+</text>
<line x1="313.05" y1="187.20" x2="512.95" y2="187.20" stroke="#555" stroke-width="1.0" />
<line x1="313.05" y1="187.20" x2="313.05" y2="233.00" stroke="#555" stroke-width="1.0" />
<line x1="410.25" y1="187.20" x2="410.25" y2="196.50" stroke="#555" stroke-width="1.0" />
<line x1="461.45" y1="187.20" x2="461.45" y2="196.50" stroke="#555" stroke-width="1.0" />
<line x1="512.95" y1="187.20" x2="512.95" y2="196.50" stroke="#555" stroke-width="1.0" />
<text x="415.80" y="185.90" font-size="7.6" text-anchor="middle" font-weight="bold" fill="#000" stroke="#000" stroke-width="0.3">+</text>
<line x1="324.15" y1="202.50" x2="522.25" y2="202.50" stroke="#555" stroke-width="1.0" />
<line x1="324.15" y1="202.50" x2="324.15" y2="249.50" stroke="#555" stroke-width="1.0" />
<line x1="419.55" y1="202.50" x2="419.55" y2="263.50" stroke="#555" stroke-width="1.0" />
<line x1="470.75" y1="202.50" x2="470.75" y2="270.50" stroke="#555" stroke-width="1.0" />
<line x1="522.25" y1="202.50" x2="522.25" y2="274.90" stroke="#555" stroke-width="1.0" />
<text x="426.40" y="201.20" font-size="7.6" text-anchor="middle" font-weight="bold" fill="#000" stroke="#000" stroke-width="0.3">+</text>
<line x1="340.25" y1="212.80" x2="368.55" y2="212.80" stroke="#555" stroke-width="1.0" />
<line x1="340.25" y1="212.80" x2="340.25" y2="225.50" stroke="#555" stroke-width="1.0" />
<line x1="368.55" y1="212.80" x2="368.55" y2="253.00" stroke="#555" stroke-width="1.0" />
<text x="354.90" y="211.20" font-size="7.0" text-anchor="middle" font-weight="bold" fill="#000" stroke="#000" stroke-width="0.35">#</text>
<line x1="391.25" y1="212.80" x2="419.55" y2="212.80" stroke="#555" stroke-width="1.0" />
<line x1="391.25" y1="212.80" x2="391.25" y2="247.50" stroke="#555" stroke-width="1.0" />
<text x="405.90" y="211.20" font-size="7.0" text-anchor="middle" font-weight="bold" fill="#000" stroke="#000" stroke-width="0.35">#</text>
<line x1="359.25" y1="212.80" x2="359.25" y2="247.60" stroke="#555" stroke-width="1.0" />
<text x="32.30" y="361.60" font-size="7.4" text-anchor="start" font-weight="bold" fill="#000" stroke="#000" stroke-width="0.25" textLength="18.80" lengthAdjust="spacingAndGlyphs" >OV-90</text>
<line x1="26.20" y1="410.58" x2="26.20" y2="496.50" stroke="#000" stroke-width="1.1" />
<line x1="23.90" y1="496.50" x2="26.20" y2="496.50" stroke="#000" stroke-width="0.85" />
<line x1="23.90" y1="494.11" x2="26.20" y2="494.11" stroke="#000" stroke-width="0.85" />
<line x1="23.90" y1="491.73" x2="26.20" y2="491.73" stroke="#000" stroke-width="0.85" />
<line x1="23.90" y1="489.34" x2="26.20" y2="489.34" stroke="#000" stroke-width="0.85" />
<line x1="23.90" y1="486.95" x2="26.20" y2="486.95" stroke="#000" stroke-width="0.85" />
<line x1="23.90" y1="484.57" x2="26.20" y2="484.57" stroke="#000" stroke-width="0.85" />
<line x1="23.90" y1="482.18" x2="26.20" y2="482.18" stroke="#000" stroke-width="0.85" />
<line x1="23.90" y1="479.79" x2="26.20" y2="479.79" stroke="#000" stroke-width="0.85" />
<line x1="23.90" y1="477.41" x2="26.20" y2="477.41" stroke="#000" stroke-width="0.85" />
<line x1="23.90" y1="475.02" x2="26.20" y2="475.02" stroke="#000" stroke-width="0.85" />
<line x1="23.90" y1="472.63" x2="26.20" y2="472.63" stroke="#000" stroke-width="0.85" />
<line x1="23.90" y1="470.25" x2="26.20" y2="470.25" stroke="#000" stroke-width="0.85" />
<line x1="23.90" y1="467.86" x2="26.20" y2="467.86" stroke="#000" stroke-width="0.85" />
<line x1="23.90" y1="465.47" x2="26.20" y2="465.47" stroke="#000" stroke-width="0.85" />
<line x1="23.90" y1="463.09" x2="26.20" y2="463.09" stroke="#000" stroke-width="0.85" />
<line x1="23.90" y1="460.70" x2="26.20" y2="460.70" stroke="#000" stroke-width="0.85" />
<line x1="23.90" y1="458.31" x2="26.20" y2="458.31" stroke="#000" stroke-width="0.85" />
<line x1="23.90" y1="455.93" x2="26.20" y2="455.93" stroke="#000" stroke-width="0.85" />
<line x1="23.90" y1="453.54" x2="26.20" y2="453.54" stroke="#000" stroke-width="0.85" />
<line x1="23.90" y1="451.15" x2="26.20" y2="451.15" stroke="#000" stroke-width="0.85" />
<line x1="23.90" y1="448.77" x2="26.20" y2="448.77" stroke="#000" stroke-width="0.85" />
<line x1="23.90" y1="446.38" x2="26.20" y2="446.38" stroke="#000" stroke-width="0.85" />
<line x1="23.90" y1="443.99" x2="26.20" y2="443.99" stroke="#000" stroke-width="0.85" />
<line x1="23.90" y1="441.61" x2="26.20" y2="441.61" stroke="#000" stroke-width="0.85" />
<line x1="23.90" y1="439.22" x2="26.20" y2="439.22" stroke="#000" stroke-width="0.85" />
<line x1="23.90" y1="436.83" x2="26.20" y2="436.83" stroke="#000" stroke-width="0.85" />
<line x1="23.90" y1="434.45" x2="26.20" y2="434.45" stroke="#000" stroke-width="0.85" />
<line x1="23.90" y1="432.06" x2="26.20" y2="432.06" stroke="#000" stroke-width="0.85" />
<line x1="23.90" y1="429.67" x2="26.20" y2="429.67" stroke="#000" stroke-width="0.85" />
<line x1="23.90" y1="427.29" x2="26.20" y2="427.29" stroke="#000" stroke-width="0.85" />
<line x1="23.90" y1="424.90" x2="26.20" y2="424.90" stroke="#000" stroke-width="0.85" />
<line x1="23.90" y1="422.51" x2="26.20" y2="422.51" stroke="#000" stroke-width="0.85" />
<line x1="23.90" y1="420.13" x2="26.20" y2="420.13" stroke="#000" stroke-width="0.85" />
<line x1="23.90" y1="417.74" x2="26.20" y2="417.74" stroke="#000" stroke-width="0.85" />
<line x1="23.90" y1="415.35" x2="26.20" y2="415.35" stroke="#000" stroke-width="0.85" />
<line x1="23.90" y1="412.97" x2="26.20" y2="412.97" stroke="#000" stroke-width="0.85" />
<line x1="23.90" y1="410.58" x2="26.20" y2="410.58" stroke="#000" stroke-width="0.85" />
<text x="21.80" y="499.00" font-size="5.3" text-anchor="end" font-weight="normal" fill="#000" stroke="#000" stroke-width="0.15" >0</text>
<text x="21.80" y="484.68" font-size="5.3" text-anchor="end" font-weight="normal" fill="#000" stroke="#000" stroke-width="0.15" >20</text>
<text x="21.80" y="470.36" font-size="5.3" text-anchor="end" font-weight="normal" fill="#000" stroke="#000" stroke-width="0.15" >40</text>
<text x="21.80" y="456.04" font-size="5.3" text-anchor="end" font-weight="normal" fill="#000" stroke="#000" stroke-width="0.15" >60</text>
<text x="21.80" y="441.72" font-size="5.3" text-anchor="end" font-weight="normal" fill="#000" stroke="#000" stroke-width="0.15" >80</text>
<text x="21.80" y="427.40" font-size="5.3" text-anchor="end" font-weight="normal" fill="#000" stroke="#000" stroke-width="0.15" >100</text>
<text x="10.80" y="456.00" font-size="8.2" text-anchor="middle" font-weight="bold" fill="#000" stroke="#000" stroke-width="0.15" textLength="78.00" lengthAdjust="spacingAndGlyphs" transform="rotate(-90 10.80 456.00)" >Viability [% of control]</text>
<line x1="26.20" y1="496.50" x2="277.30" y2="496.50" stroke="#000" stroke-width="1.2" />
<line x1="277.30" y1="496.00" x2="277.30" y2="502.50" stroke="#000" stroke-width="1.0" />
<line x1="32.35" y1="427.76" x2="32.35" y2="430.63" stroke="#000" stroke-width="0.9" />
<line x1="30.35" y1="427.76" x2="34.35" y2="427.76" stroke="#000" stroke-width="1.0" />
<rect x="28.75" y="430.63" width="7.20" height="65.87" fill="url(#hw)" stroke="#000" stroke-width="0.9" />
<text x="32.35" y="502.30" font-size="5.3" text-anchor="middle" font-weight="normal" fill="#000" stroke="#000" stroke-width="0.2" >2.5</text>
<line x1="43.95" y1="440.65" x2="43.95" y2="447.31" stroke="#000" stroke-width="0.9" />
<line x1="41.95" y1="440.65" x2="45.95" y2="440.65" stroke="#000" stroke-width="1.0" />
<rect x="40.35" y="447.31" width="7.20" height="49.19" fill="url(#hw)" stroke="#000" stroke-width="0.9" />
<text x="43.95" y="502.30" font-size="5.3" text-anchor="middle" font-weight="normal" fill="#000" stroke="#000" stroke-width="0.2" >5</text>
<line x1="54.65" y1="459.98" x2="54.65" y2="466.64" stroke="#000" stroke-width="0.9" />
<line x1="52.65" y1="459.98" x2="56.65" y2="459.98" stroke="#000" stroke-width="1.0" />
<rect x="51.05" y="466.64" width="7.20" height="29.86" fill="url(#hw)" stroke="#000" stroke-width="0.9" />
<text x="54.65" y="502.30" font-size="5.3" text-anchor="middle" font-weight="normal" fill="#000" stroke="#000" stroke-width="0.2" >10</text>
<line x1="71.75" y1="424.54" x2="71.75" y2="429.20" stroke="#000" stroke-width="0.9" />
<line x1="69.75" y1="424.54" x2="73.75" y2="424.54" stroke="#000" stroke-width="1.0" />
<rect x="68.15" y="429.20" width="7.20" height="67.30" fill="#FFC000" stroke="#000" stroke-width="0.9" />
<text x="71.75" y="502.30" font-size="5.3" text-anchor="middle" font-weight="normal" fill="#999" stroke="#999" stroke-width="0.2" >—</text>
<rect x="77.65" y="439.65" width="7.20" height="56.85" fill="url(#hy)" stroke="#000" stroke-width="0.9" />
<text x="81.25" y="502.30" font-size="5.3" text-anchor="middle" font-weight="normal" fill="#000" stroke="#000" stroke-width="0.2" >2.5</text>
<line x1="90.75" y1="456.40" x2="90.75" y2="457.62" stroke="#000" stroke-width="0.9" />
<line x1="88.75" y1="456.40" x2="92.75" y2="456.40" stroke="#000" stroke-width="1.0" />
<circle cx="90.75" cy="452.00" r="1.45" fill="#000" />
<rect x="87.15" y="457.62" width="7.20" height="38.88" fill="url(#hy)" stroke="#000" stroke-width="0.9" />
<text x="90.75" y="502.30" font-size="5.3" text-anchor="middle" font-weight="normal" fill="#000" stroke="#000" stroke-width="0.2" >5</text>
<line x1="100.05" y1="474.30" x2="100.05" y2="477.38" stroke="#000" stroke-width="0.9" />
<line x1="98.05" y1="474.30" x2="102.05" y2="474.30" stroke="#000" stroke-width="1.0" />
<circle cx="100.05" cy="468.50" r="1.45" fill="#000" />
<rect x="96.45" y="477.38" width="7.20" height="19.12" fill="url(#hy)" stroke="#000" stroke-width="0.9" />
<text x="100.05" y="502.30" font-size="5.3" text-anchor="middle" font-weight="normal" fill="#000" stroke="#000" stroke-width="0.2" >10</text>
<line x1="77.20" y1="504.00" x2="103.70" y2="504.00" stroke="#606060" stroke-width="1.0" />
<text x="85.95" y="507.60" font-size="5.6" text-anchor="middle" font-weight="bold" fill="#000" stroke="#000" stroke-width="0.2" >+</text>
<line x1="68.40" y1="508.80" x2="103.40" y2="508.80" stroke="#8C8C8C" stroke-width="1.5" />
<text x="85.65" y="514.40" font-size="5.4" text-anchor="middle" font-weight="normal" fill="#000" stroke="#000" stroke-width="0.25" >0.5</text>
<text x="85.10" y="529.60" font-size="6.0" text-anchor="middle" font-weight="bold" fill="#22AA22" textLength="10.00" lengthAdjust="spacingAndGlyphs" transform="rotate(-90 85.10 529.60)" >0.84</text>
<text x="93.90" y="529.60" font-size="6.0" text-anchor="middle" font-weight="bold" fill="#22AA22" textLength="10.00" lengthAdjust="spacingAndGlyphs" transform="rotate(-90 93.90 529.60)" >0.76</text>
<text x="103.50" y="529.60" font-size="6.0" text-anchor="middle" font-weight="bold" fill="#22AA22" textLength="10.00" lengthAdjust="spacingAndGlyphs" transform="rotate(-90 103.50 529.60)" >0.63</text>
<line x1="123.65" y1="425.97" x2="123.65" y2="432.06" stroke="#000" stroke-width="0.9" />
<line x1="121.65" y1="425.97" x2="125.65" y2="425.97" stroke="#000" stroke-width="1.0" />
<rect x="120.05" y="432.06" width="7.20" height="64.44" fill="#FFC000" stroke="#000" stroke-width="0.9" />
<text x="123.65" y="502.30" font-size="5.3" text-anchor="middle" font-weight="normal" fill="#999" stroke="#999" stroke-width="0.2" >—</text>
<line x1="133.15" y1="445.66" x2="133.15" y2="449.24" stroke="#000" stroke-width="0.9" />
<line x1="131.15" y1="445.66" x2="135.15" y2="445.66" stroke="#000" stroke-width="1.0" />
<circle cx="133.15" cy="441.90" r="1.45" fill="#000" />
<rect x="129.55" y="449.24" width="7.20" height="47.26" fill="url(#hy)" stroke="#000" stroke-width="0.9" />
<text x="133.15" y="502.30" font-size="5.3" text-anchor="middle" font-weight="normal" fill="#000" stroke="#000" stroke-width="0.2" >2.5</text>
<line x1="142.65" y1="463.56" x2="142.65" y2="466.43" stroke="#000" stroke-width="0.9" />
<line x1="140.65" y1="463.56" x2="144.65" y2="463.56" stroke="#000" stroke-width="1.0" />
<circle cx="142.65" cy="460.70" r="1.45" fill="#000" />
<rect x="139.05" y="466.43" width="7.20" height="30.07" fill="url(#hy)" stroke="#000" stroke-width="0.9" />
<text x="142.65" y="502.30" font-size="5.3" text-anchor="middle" font-weight="normal" fill="#000" stroke="#000" stroke-width="0.2" >5</text>
<line x1="151.95" y1="480.03" x2="151.95" y2="482.18" stroke="#000" stroke-width="0.9" />
<line x1="149.95" y1="480.03" x2="153.95" y2="480.03" stroke="#000" stroke-width="1.0" />
<circle cx="151.95" cy="477.30" r="1.45" fill="#000" />
<rect x="148.35" y="482.18" width="7.20" height="14.32" fill="url(#hy)" stroke="#000" stroke-width="0.9" />
<text x="151.95" y="502.30" font-size="5.3" text-anchor="middle" font-weight="normal" fill="#000" stroke="#000" stroke-width="0.2" >10</text>
<line x1="129.10" y1="504.00" x2="155.60" y2="504.00" stroke="#606060" stroke-width="1.0" />
<text x="137.85" y="507.60" font-size="5.6" text-anchor="middle" font-weight="bold" fill="#000" stroke="#000" stroke-width="0.2" >+</text>
<line x1="120.30" y1="508.80" x2="155.30" y2="508.80" stroke="#8C8C8C" stroke-width="1.5" />
<text x="137.55" y="514.40" font-size="5.4" text-anchor="middle" font-weight="normal" fill="#000" stroke="#000" stroke-width="0.25" >1</text>
<text x="135.50" y="529.60" font-size="6.0" text-anchor="middle" font-weight="bold" fill="#22AA22" textLength="10.00" lengthAdjust="spacingAndGlyphs" transform="rotate(-90 135.50 529.60)" >0.67</text>
<text x="144.70" y="529.60" font-size="6.0" text-anchor="middle" font-weight="bold" fill="#22AA22" textLength="10.00" lengthAdjust="spacingAndGlyphs" transform="rotate(-90 144.70 529.60)" >0.58</text>
<text x="154.10" y="529.60" font-size="6.0" text-anchor="middle" font-weight="bold" fill="#22AA22" textLength="10.00" lengthAdjust="spacingAndGlyphs" transform="rotate(-90 154.10 529.60)" >0.45</text>
<line x1="175.15" y1="442.80" x2="175.15" y2="445.95" stroke="#000" stroke-width="0.9" />
<line x1="173.15" y1="442.80" x2="177.15" y2="442.80" stroke="#000" stroke-width="1.0" />
<circle cx="175.15" cy="438.80" r="1.45" fill="#000" />
<rect x="171.55" y="445.95" width="7.20" height="50.55" fill="#FFC000" stroke="#000" stroke-width="0.9" />
<text x="175.15" y="502.30" font-size="5.3" text-anchor="middle" font-weight="normal" fill="#999" stroke="#999" stroke-width="0.2" >—</text>
<line x1="184.65" y1="459.98" x2="184.65" y2="465.35" stroke="#000" stroke-width="0.9" />
<line x1="182.65" y1="459.98" x2="186.65" y2="459.98" stroke="#000" stroke-width="1.0" />
<circle cx="184.65" cy="456.20" r="1.45" fill="#000" />
<rect x="181.05" y="465.35" width="7.20" height="31.15" fill="url(#hy)" stroke="#000" stroke-width="0.9" />
<text x="184.65" y="502.30" font-size="5.3" text-anchor="middle" font-weight="normal" fill="#000" stroke="#000" stroke-width="0.2" >2.5</text>
<line x1="194.15" y1="477.17" x2="194.15" y2="478.60" stroke="#000" stroke-width="0.9" />
<line x1="192.15" y1="477.17" x2="196.15" y2="477.17" stroke="#000" stroke-width="1.0" />
<circle cx="194.15" cy="472.00" r="1.45" fill="#000" />
<rect x="190.55" y="478.60" width="7.20" height="17.90" fill="url(#hy)" stroke="#000" stroke-width="0.9" />
<text x="194.15" y="502.30" font-size="5.3" text-anchor="middle" font-weight="normal" fill="#000" stroke="#000" stroke-width="0.2" >5</text>
<line x1="203.45" y1="482.90" x2="203.45" y2="484.83" stroke="#000" stroke-width="0.9" />
<line x1="201.45" y1="482.90" x2="205.45" y2="482.90" stroke="#000" stroke-width="1.0" />
<circle cx="203.45" cy="479.70" r="1.45" fill="#000" />
<rect x="199.85" y="484.83" width="7.20" height="11.67" fill="url(#hy)" stroke="#000" stroke-width="0.9" />
<text x="203.45" y="502.30" font-size="5.3" text-anchor="middle" font-weight="normal" fill="#000" stroke="#000" stroke-width="0.2" >10</text>
<line x1="180.60" y1="504.00" x2="207.10" y2="504.00" stroke="#606060" stroke-width="1.0" />
<text x="189.35" y="507.60" font-size="5.6" text-anchor="middle" font-weight="bold" fill="#000" stroke="#000" stroke-width="0.2" >+</text>
<line x1="171.80" y1="508.80" x2="206.80" y2="508.80" stroke="#8C8C8C" stroke-width="1.5" />
<text x="189.05" y="514.40" font-size="5.4" text-anchor="middle" font-weight="normal" fill="#000" stroke="#000" stroke-width="0.25" >2.5</text>
<text x="187.20" y="529.60" font-size="6.0" text-anchor="middle" font-weight="bold" fill="#22AA22" textLength="10.00" lengthAdjust="spacingAndGlyphs" transform="rotate(-90 187.20 529.60)" >0.48</text>
<text x="196.60" y="529.60" font-size="6.0" text-anchor="middle" font-weight="bold" fill="#22AA22" textLength="10.00" lengthAdjust="spacingAndGlyphs" transform="rotate(-90 196.60 529.60)" >0.37</text>
<text x="205.80" y="529.60" font-size="6.0" text-anchor="middle" font-weight="bold" fill="#22AA22" textLength="10.00" lengthAdjust="spacingAndGlyphs" transform="rotate(-90 205.80 529.60)" >0.39</text>
<line x1="226.45" y1="466.07" x2="226.45" y2="468.65" stroke="#000" stroke-width="0.9" />
<line x1="224.45" y1="466.07" x2="228.45" y2="466.07" stroke="#000" stroke-width="1.0" />
<circle cx="226.45" cy="462.80" r="1.45" fill="#000" />
<rect x="222.85" y="468.65" width="7.20" height="27.85" fill="#FFC000" stroke="#000" stroke-width="0.9" />
<text x="226.45" y="502.30" font-size="5.3" text-anchor="middle" font-weight="normal" fill="#999" stroke="#999" stroke-width="0.2" >—</text>
<line x1="235.95" y1="476.81" x2="235.95" y2="477.67" stroke="#000" stroke-width="0.9" />
<line x1="233.95" y1="476.81" x2="237.95" y2="476.81" stroke="#000" stroke-width="1.0" />
<circle cx="235.95" cy="473.10" r="1.45" fill="#000" />
<rect x="232.35" y="477.67" width="7.20" height="18.83" fill="url(#hy)" stroke="#000" stroke-width="0.9" />
<text x="235.95" y="502.30" font-size="5.3" text-anchor="middle" font-weight="normal" fill="#000" stroke="#000" stroke-width="0.2" >2.5</text>
<line x1="245.45" y1="481.46" x2="245.45" y2="482.61" stroke="#000" stroke-width="0.9" />
<line x1="243.45" y1="481.46" x2="247.45" y2="481.46" stroke="#000" stroke-width="1.0" />
<circle cx="245.45" cy="477.40" r="1.45" fill="#000" />
<rect x="241.85" y="482.61" width="7.20" height="13.89" fill="url(#hy)" stroke="#000" stroke-width="0.9" />
<text x="245.45" y="502.30" font-size="5.3" text-anchor="middle" font-weight="normal" fill="#000" stroke="#000" stroke-width="0.2" >5</text>
<line x1="254.75" y1="484.69" x2="254.75" y2="485.40" stroke="#000" stroke-width="0.9" />
<line x1="252.75" y1="484.69" x2="256.75" y2="484.69" stroke="#000" stroke-width="1.0" />
<rect x="251.15" y="485.40" width="7.20" height="11.10" fill="url(#hy)" stroke="#000" stroke-width="0.9" />
<text x="254.75" y="502.30" font-size="5.3" text-anchor="middle" font-weight="normal" fill="#000" stroke="#000" stroke-width="0.2" >10</text>
<line x1="231.90" y1="504.00" x2="258.40" y2="504.00" stroke="#606060" stroke-width="1.0" />
<text x="240.65" y="507.60" font-size="5.6" text-anchor="middle" font-weight="bold" fill="#000" stroke="#000" stroke-width="0.2" >+</text>
<line x1="223.10" y1="508.80" x2="258.10" y2="508.80" stroke="#8C8C8C" stroke-width="1.5" />
<text x="240.35" y="514.40" font-size="5.4" text-anchor="middle" font-weight="normal" fill="#000" stroke="#000" stroke-width="0.25" >5</text>
<text x="238.10" y="529.60" font-size="6.0" text-anchor="middle" font-weight="bold" fill="#22AA22" textLength="10.00" lengthAdjust="spacingAndGlyphs" transform="rotate(-90 238.10 529.60)" >0.31</text>
<text x="247.50" y="529.60" font-size="6.0" text-anchor="middle" font-weight="bold" fill="#22AA22" textLength="10.00" lengthAdjust="spacingAndGlyphs" transform="rotate(-90 247.50 529.60)" >0.30</text>
<text x="256.70" y="529.60" font-size="6.0" text-anchor="middle" font-weight="bold" fill="#22AA22" textLength="10.00" lengthAdjust="spacingAndGlyphs" transform="rotate(-90 256.70 529.60)" >0.41</text>
<line x1="68.50" y1="521.50" x2="545.50" y2="521.50" stroke="#404040" stroke-width="1.5" />
<text x="260.50" y="502.30" font-size="6.6" text-anchor="start" font-weight="normal" fill="#000" stroke="#000" stroke-width="0.2" textLength="16.50" lengthAdjust="spacingAndGlyphs" >O [μM]</text>
<text x="260.50" y="514.10" font-size="6.6" text-anchor="start" font-weight="normal" fill="#000" stroke="#000" stroke-width="0.2" textLength="16.50" lengthAdjust="spacingAndGlyphs" >A[μM]</text>
<line x1="32.35" y1="366.60" x2="235.95" y2="366.60" stroke="#555" stroke-width="1.0" />
<line x1="32.35" y1="366.60" x2="32.35" y2="421.60" stroke="#555" stroke-width="1.0" />
<line x1="133.15" y1="366.60" x2="133.15" y2="375.50" stroke="#555" stroke-width="1.0" />
<line x1="184.65" y1="366.60" x2="184.65" y2="375.50" stroke="#555" stroke-width="1.0" />
<line x1="235.95" y1="366.60" x2="235.95" y2="375.50" stroke="#555" stroke-width="1.0" />
<text x="138.20" y="365.30" font-size="7.6" text-anchor="middle" font-weight="bold" fill="#000" stroke="#000" stroke-width="0.3">+</text>
<line x1="43.95" y1="378.60" x2="245.45" y2="378.60" stroke="#555" stroke-width="1.0" />
<line x1="43.95" y1="378.60" x2="43.95" y2="427.70" stroke="#555" stroke-width="1.0" />
<line x1="142.65" y1="378.60" x2="142.65" y2="388.20" stroke="#555" stroke-width="1.0" />
<line x1="194.15" y1="378.60" x2="194.15" y2="388.20" stroke="#555" stroke-width="1.0" />
<line x1="245.45" y1="378.60" x2="245.45" y2="388.20" stroke="#555" stroke-width="1.0" />
<text x="146.30" y="377.30" font-size="7.6" text-anchor="middle" font-weight="bold" fill="#000" stroke="#000" stroke-width="0.3">+</text>
<line x1="54.65" y1="393.60" x2="254.75" y2="393.60" stroke="#555" stroke-width="1.0" />
<line x1="54.65" y1="393.60" x2="54.65" y2="436.00" stroke="#555" stroke-width="1.0" />
<line x1="151.95" y1="393.60" x2="151.95" y2="474.80" stroke="#555" stroke-width="1.0" />
<line x1="203.45" y1="393.60" x2="203.45" y2="477.20" stroke="#555" stroke-width="1.0" />
<line x1="254.75" y1="393.60" x2="254.75" y2="483.50" stroke="#555" stroke-width="1.0" />
<text x="156.50" y="392.30" font-size="7.6" text-anchor="middle" font-weight="bold" fill="#000" stroke="#000" stroke-width="0.3">+</text>
<line x1="71.75" y1="404.40" x2="100.05" y2="404.40" stroke="#555" stroke-width="1.0" />
<line x1="71.75" y1="404.40" x2="71.75" y2="421.00" stroke="#555" stroke-width="1.0" />
<line x1="100.05" y1="404.40" x2="100.05" y2="466.00" stroke="#555" stroke-width="1.0" />
<text x="86.40" y="402.80" font-size="7.0" text-anchor="middle" font-weight="bold" fill="#000" stroke="#000" stroke-width="0.35">#</text>
<line x1="123.65" y1="404.40" x2="151.95" y2="404.40" stroke="#555" stroke-width="1.0" />
<line x1="123.65" y1="404.40" x2="123.65" y2="423.00" stroke="#555" stroke-width="1.0" />
<text x="138.30" y="402.80" font-size="7.0" text-anchor="middle" font-weight="bold" fill="#000" stroke="#000" stroke-width="0.35">#</text>
<line x1="175.15" y1="404.40" x2="203.45" y2="404.40" stroke="#555" stroke-width="1.0" />
<line x1="175.15" y1="404.40" x2="175.15" y2="436.30" stroke="#555" stroke-width="1.0" />
<text x="189.80" y="402.80" font-size="7.0" text-anchor="middle" font-weight="bold" fill="#000" stroke="#000" stroke-width="0.35">#</text>
<line x1="226.45" y1="404.40" x2="254.75" y2="404.40" stroke="#555" stroke-width="1.0" />
<line x1="226.45" y1="404.40" x2="226.45" y2="460.30" stroke="#555" stroke-width="1.0" />
<text x="241.10" y="402.80" font-size="7.0" text-anchor="middle" font-weight="bold" fill="#000" stroke="#000" stroke-width="0.35">#</text>
<line x1="90.75" y1="404.40" x2="90.75" y2="449.80" stroke="#555" stroke-width="1.0" />
<line x1="133.15" y1="404.40" x2="133.15" y2="439.40" stroke="#555" stroke-width="1.0" />
<line x1="142.65" y1="404.40" x2="142.65" y2="458.20" stroke="#555" stroke-width="1.0" />
<line x1="184.65" y1="404.40" x2="184.65" y2="453.70" stroke="#555" stroke-width="1.0" />
<line x1="194.15" y1="404.40" x2="194.15" y2="469.50" stroke="#555" stroke-width="1.0" />
<text x="59.20" y="533.30" font-size="10.2" text-anchor="start" font-weight="bold" fill="#000" stroke="#000" stroke-width="0.25" textLength="18.40" lengthAdjust="spacingAndGlyphs" >CDI:</text>
<text x="298.50" y="361.60" font-size="7.4" text-anchor="start" font-weight="bold" fill="#000" stroke="#000" stroke-width="0.25" textLength="18.80" lengthAdjust="spacingAndGlyphs" >OV-90</text>
<line x1="293.00" y1="410.48" x2="293.00" y2="496.40" stroke="#000" stroke-width="1.1" />
<line x1="290.70" y1="496.40" x2="293.00" y2="496.40" stroke="#000" stroke-width="0.85" />
<line x1="290.70" y1="494.01" x2="293.00" y2="494.01" stroke="#000" stroke-width="0.85" />
<line x1="290.70" y1="491.63" x2="293.00" y2="491.63" stroke="#000" stroke-width="0.85" />
<line x1="290.70" y1="489.24" x2="293.00" y2="489.24" stroke="#000" stroke-width="0.85" />
<line x1="290.70" y1="486.85" x2="293.00" y2="486.85" stroke="#000" stroke-width="0.85" />
<line x1="290.70" y1="484.47" x2="293.00" y2="484.47" stroke="#000" stroke-width="0.85" />
<line x1="290.70" y1="482.08" x2="293.00" y2="482.08" stroke="#000" stroke-width="0.85" />
<line x1="290.70" y1="479.69" x2="293.00" y2="479.69" stroke="#000" stroke-width="0.85" />
<line x1="290.70" y1="477.31" x2="293.00" y2="477.31" stroke="#000" stroke-width="0.85" />
<line x1="290.70" y1="474.92" x2="293.00" y2="474.92" stroke="#000" stroke-width="0.85" />
<line x1="290.70" y1="472.53" x2="293.00" y2="472.53" stroke="#000" stroke-width="0.85" />
<line x1="290.70" y1="470.15" x2="293.00" y2="470.15" stroke="#000" stroke-width="0.85" />
<line x1="290.70" y1="467.76" x2="293.00" y2="467.76" stroke="#000" stroke-width="0.85" />
<line x1="290.70" y1="465.37" x2="293.00" y2="465.37" stroke="#000" stroke-width="0.85" />
<line x1="290.70" y1="462.99" x2="293.00" y2="462.99" stroke="#000" stroke-width="0.85" />
<line x1="290.70" y1="460.60" x2="293.00" y2="460.60" stroke="#000" stroke-width="0.85" />
<line x1="290.70" y1="458.21" x2="293.00" y2="458.21" stroke="#000" stroke-width="0.85" />
<line x1="290.70" y1="455.83" x2="293.00" y2="455.83" stroke="#000" stroke-width="0.85" />
<line x1="290.70" y1="453.44" x2="293.00" y2="453.44" stroke="#000" stroke-width="0.85" />
<line x1="290.70" y1="451.05" x2="293.00" y2="451.05" stroke="#000" stroke-width="0.85" />
<line x1="290.70" y1="448.67" x2="293.00" y2="448.67" stroke="#000" stroke-width="0.85" />
<line x1="290.70" y1="446.28" x2="293.00" y2="446.28" stroke="#000" stroke-width="0.85" />
<line x1="290.70" y1="443.89" x2="293.00" y2="443.89" stroke="#000" stroke-width="0.85" />
<line x1="290.70" y1="441.51" x2="293.00" y2="441.51" stroke="#000" stroke-width="0.85" />
<line x1="290.70" y1="439.12" x2="293.00" y2="439.12" stroke="#000" stroke-width="0.85" />
<line x1="290.70" y1="436.73" x2="293.00" y2="436.73" stroke="#000" stroke-width="0.85" />
<line x1="290.70" y1="434.35" x2="293.00" y2="434.35" stroke="#000" stroke-width="0.85" />
<line x1="290.70" y1="431.96" x2="293.00" y2="431.96" stroke="#000" stroke-width="0.85" />
<line x1="290.70" y1="429.57" x2="293.00" y2="429.57" stroke="#000" stroke-width="0.85" />
<line x1="290.70" y1="427.19" x2="293.00" y2="427.19" stroke="#000" stroke-width="0.85" />
<line x1="290.70" y1="424.80" x2="293.00" y2="424.80" stroke="#000" stroke-width="0.85" />
<line x1="290.70" y1="422.41" x2="293.00" y2="422.41" stroke="#000" stroke-width="0.85" />
<line x1="290.70" y1="420.03" x2="293.00" y2="420.03" stroke="#000" stroke-width="0.85" />
<line x1="290.70" y1="417.64" x2="293.00" y2="417.64" stroke="#000" stroke-width="0.85" />
<line x1="290.70" y1="415.25" x2="293.00" y2="415.25" stroke="#000" stroke-width="0.85" />
<line x1="290.70" y1="412.87" x2="293.00" y2="412.87" stroke="#000" stroke-width="0.85" />
<line x1="290.70" y1="410.48" x2="293.00" y2="410.48" stroke="#000" stroke-width="0.85" />
<text x="288.60" y="498.90" font-size="5.3" text-anchor="end" font-weight="normal" fill="#000" stroke="#000" stroke-width="0.15" >0</text>
<text x="288.60" y="484.58" font-size="5.3" text-anchor="end" font-weight="normal" fill="#000" stroke="#000" stroke-width="0.15" >20</text>
<text x="288.60" y="470.26" font-size="5.3" text-anchor="end" font-weight="normal" fill="#000" stroke="#000" stroke-width="0.15" >40</text>
<text x="288.60" y="455.94" font-size="5.3" text-anchor="end" font-weight="normal" fill="#000" stroke="#000" stroke-width="0.15" >60</text>
<text x="288.60" y="441.62" font-size="5.3" text-anchor="end" font-weight="normal" fill="#000" stroke="#000" stroke-width="0.15" >80</text>
<text x="288.60" y="427.30" font-size="5.3" text-anchor="end" font-weight="normal" fill="#000" stroke="#000" stroke-width="0.15" >100</text>
<line x1="293.00" y1="496.40" x2="544.30" y2="496.40" stroke="#000" stroke-width="1.2" />
<line x1="544.30" y1="495.90" x2="544.30" y2="502.40" stroke="#000" stroke-width="1.0" />
<line x1="298.85" y1="428.38" x2="298.85" y2="430.81" stroke="#000" stroke-width="0.9" />
<line x1="296.85" y1="428.38" x2="300.85" y2="428.38" stroke="#000" stroke-width="1.0" />
<rect x="295.25" y="430.81" width="7.20" height="65.59" fill="url(#hw)" stroke="#000" stroke-width="0.9" />
<text x="298.85" y="502.20" font-size="5.3" text-anchor="middle" font-weight="normal" fill="#000" stroke="#000" stroke-width="0.2" >2.5</text>
<line x1="310.15" y1="440.19" x2="310.15" y2="447.21" stroke="#000" stroke-width="0.9" />
<line x1="308.15" y1="440.19" x2="312.15" y2="440.19" stroke="#000" stroke-width="1.0" />
<rect x="306.55" y="447.21" width="7.20" height="49.19" fill="url(#hw)" stroke="#000" stroke-width="0.9" />
<text x="310.15" y="502.20" font-size="5.3" text-anchor="middle" font-weight="normal" fill="#000" stroke="#000" stroke-width="0.2" >5</text>
<line x1="321.35" y1="459.88" x2="321.35" y2="467.04" stroke="#000" stroke-width="0.9" />
<line x1="319.35" y1="459.88" x2="323.35" y2="459.88" stroke="#000" stroke-width="1.0" />
<rect x="317.75" y="467.04" width="7.20" height="29.36" fill="url(#hw)" stroke="#000" stroke-width="0.9" />
<text x="321.35" y="502.20" font-size="5.3" text-anchor="middle" font-weight="normal" fill="#000" stroke="#000" stroke-width="0.2" >10</text>
<line x1="337.55" y1="418.36" x2="337.55" y2="427.66" stroke="#000" stroke-width="0.9" />
<line x1="335.55" y1="418.36" x2="339.55" y2="418.36" stroke="#000" stroke-width="1.0" />
<circle cx="337.55" cy="413.60" r="1.45" fill="#000" />
<rect x="333.95" y="427.66" width="7.20" height="68.74" fill="#FF0000" stroke="#000" stroke-width="0.9" />
<text x="337.55" y="502.20" font-size="5.3" text-anchor="middle" font-weight="normal" fill="#999" stroke="#999" stroke-width="0.2" >—</text>
<circle cx="347.05" cy="470.70" r="1.45" fill="#000" />
<rect x="343.45" y="474.92" width="7.20" height="21.48" fill="url(#hr)" stroke="#000" stroke-width="0.9" />
<text x="347.05" y="502.20" font-size="5.3" text-anchor="middle" font-weight="normal" fill="#000" stroke="#000" stroke-width="0.2" >2.5</text>
<line x1="356.55" y1="481.01" x2="356.55" y2="483.73" stroke="#000" stroke-width="0.9" />
<line x1="354.55" y1="481.01" x2="358.55" y2="481.01" stroke="#000" stroke-width="1.0" />
<circle cx="356.55" cy="477.90" r="1.45" fill="#000" />
<rect x="352.95" y="483.73" width="7.20" height="12.67" fill="url(#hr)" stroke="#000" stroke-width="0.9" />
<text x="356.55" y="502.20" font-size="5.3" text-anchor="middle" font-weight="normal" fill="#000" stroke="#000" stroke-width="0.2" >5</text>
<line x1="365.85" y1="481.72" x2="365.85" y2="486.59" stroke="#000" stroke-width="0.9" />
<line x1="363.85" y1="481.72" x2="367.85" y2="481.72" stroke="#000" stroke-width="1.0" />
<circle cx="365.85" cy="478.60" r="1.45" fill="#000" />
<rect x="362.25" y="486.59" width="7.20" height="9.81" fill="url(#hr)" stroke="#000" stroke-width="0.9" />
<text x="365.85" y="502.20" font-size="5.3" text-anchor="middle" font-weight="normal" fill="#000" stroke="#000" stroke-width="0.2" >10</text>
<line x1="343.00" y1="503.90" x2="369.50" y2="503.90" stroke="#606060" stroke-width="1.0" />
<text x="351.75" y="507.50" font-size="5.6" text-anchor="middle" font-weight="bold" fill="#000" stroke="#000" stroke-width="0.2" >+</text>
<line x1="334.20" y1="508.70" x2="369.20" y2="508.70" stroke="#8C8C8C" stroke-width="1.5" />
<text x="351.45" y="514.30" font-size="5.4" text-anchor="middle" font-weight="normal" fill="#000" stroke="#000" stroke-width="0.25" >0.5</text>
<text x="350.50" y="529.50" font-size="6.0" text-anchor="middle" font-weight="bold" fill="#22AA22" textLength="10.00" lengthAdjust="spacingAndGlyphs" transform="rotate(-90 350.50 529.50)" >0.39</text>
<text x="361.00" y="529.50" font-size="6.0" text-anchor="middle" font-weight="bold" fill="#22AA22" textLength="10.00" lengthAdjust="spacingAndGlyphs" transform="rotate(-90 361.00 529.50)" >0.30</text>
<text x="370.50" y="529.50" font-size="6.0" text-anchor="middle" font-weight="bold" fill="#22AA22" textLength="10.00" lengthAdjust="spacingAndGlyphs" transform="rotate(-90 370.50 529.50)" >0.40</text>
<line x1="390.05" y1="449.86" x2="390.05" y2="457.95" stroke="#000" stroke-width="0.9" />
<line x1="388.05" y1="449.86" x2="392.05" y2="449.86" stroke="#000" stroke-width="1.0" />
<circle cx="390.05" cy="445.60" r="1.45" fill="#000" />
<rect x="386.45" y="457.95" width="7.20" height="38.45" fill="#FF0000" stroke="#000" stroke-width="0.9" />
<text x="390.05" y="502.20" font-size="5.3" text-anchor="middle" font-weight="normal" fill="#999" stroke="#999" stroke-width="0.2" >—</text>
<line x1="399.55" y1="469.91" x2="399.55" y2="478.07" stroke="#000" stroke-width="0.9" />
<line x1="397.55" y1="469.91" x2="401.55" y2="469.91" stroke="#000" stroke-width="1.0" />
<circle cx="399.55" cy="466.20" r="1.45" fill="#000" />
<rect x="395.95" y="478.07" width="7.20" height="18.33" fill="url(#hr)" stroke="#000" stroke-width="0.9" />
<text x="399.55" y="502.20" font-size="5.3" text-anchor="middle" font-weight="normal" fill="#000" stroke="#000" stroke-width="0.2" >2.5</text>
<line x1="409.05" y1="481.72" x2="409.05" y2="485.30" stroke="#000" stroke-width="0.9" />
<line x1="407.05" y1="481.72" x2="411.05" y2="481.72" stroke="#000" stroke-width="1.0" />
<circle cx="409.05" cy="476.90" r="1.45" fill="#000" />
<rect x="405.45" y="485.30" width="7.20" height="11.10" fill="url(#hr)" stroke="#000" stroke-width="0.9" />
<text x="409.05" y="502.20" font-size="5.3" text-anchor="middle" font-weight="normal" fill="#000" stroke="#000" stroke-width="0.2" >5</text>
<circle cx="418.35" cy="477.40" r="1.45" fill="#000" />
<rect x="414.75" y="486.38" width="7.20" height="10.02" fill="url(#hr)" stroke="#000" stroke-width="0.9" />
<text x="418.35" y="502.20" font-size="5.3" text-anchor="middle" font-weight="normal" fill="#000" stroke="#000" stroke-width="0.2" >10</text>
<line x1="395.50" y1="503.90" x2="422.00" y2="503.90" stroke="#606060" stroke-width="1.0" />
<text x="404.25" y="507.50" font-size="5.6" text-anchor="middle" font-weight="bold" fill="#000" stroke="#000" stroke-width="0.2" >+</text>
<line x1="386.70" y1="508.70" x2="421.70" y2="508.70" stroke="#8C8C8C" stroke-width="1.5" />
<text x="403.95" y="514.30" font-size="5.4" text-anchor="middle" font-weight="normal" fill="#000" stroke="#000" stroke-width="0.25" >1</text>
<text x="402.30" y="529.50" font-size="6.0" text-anchor="middle" font-weight="bold" fill="#22AA22" textLength="10.00" lengthAdjust="spacingAndGlyphs" transform="rotate(-90 402.30 529.50)" >0.63</text>
<text x="412.30" y="529.50" font-size="6.0" text-anchor="middle" font-weight="bold" fill="#22AA22" textLength="10.00" lengthAdjust="spacingAndGlyphs" transform="rotate(-90 412.30 529.50)" >0.50</text>
<text x="421.40" y="529.50" font-size="6.0" text-anchor="middle" font-weight="bold" fill="#22AA22" textLength="10.00" lengthAdjust="spacingAndGlyphs" transform="rotate(-90 421.40 529.50)" >0.77</text>
<line x1="442.35" y1="452.72" x2="442.35" y2="459.53" stroke="#000" stroke-width="0.9" />
<line x1="440.35" y1="452.72" x2="444.35" y2="452.72" stroke="#000" stroke-width="1.0" />
<circle cx="442.35" cy="450.00" r="1.45" fill="#000" />
<rect x="438.75" y="459.53" width="7.20" height="36.87" fill="#FF0000" stroke="#000" stroke-width="0.9" />
<text x="442.35" y="502.20" font-size="5.3" text-anchor="middle" font-weight="normal" fill="#999" stroke="#999" stroke-width="0.2" >—</text>
<line x1="451.85" y1="469.91" x2="451.85" y2="478.07" stroke="#000" stroke-width="0.9" />
<line x1="449.85" y1="469.91" x2="453.85" y2="469.91" stroke="#000" stroke-width="1.0" />
<circle cx="451.85" cy="466.00" r="1.45" fill="#000" />
<rect x="448.25" y="478.07" width="7.20" height="18.33" fill="url(#hr)" stroke="#000" stroke-width="0.9" />
<text x="451.85" y="502.20" font-size="5.3" text-anchor="middle" font-weight="normal" fill="#000" stroke="#000" stroke-width="0.2" >2.5</text>
<circle cx="461.35" cy="479.50" r="1.45" fill="#000" />
<rect x="457.75" y="483.73" width="7.20" height="12.67" fill="url(#hr)" stroke="#000" stroke-width="0.9" />
<text x="461.35" y="502.20" font-size="5.3" text-anchor="middle" font-weight="normal" fill="#000" stroke="#000" stroke-width="0.2" >5</text>
<line x1="470.65" y1="480.65" x2="470.65" y2="484.23" stroke="#000" stroke-width="0.9" />
<line x1="468.65" y1="480.65" x2="472.65" y2="480.65" stroke="#000" stroke-width="1.0" />
<circle cx="470.65" cy="476.40" r="1.45" fill="#000" />
<rect x="467.05" y="484.23" width="7.20" height="12.17" fill="url(#hr)" stroke="#000" stroke-width="0.9" />
<text x="470.65" y="502.20" font-size="5.3" text-anchor="middle" font-weight="normal" fill="#000" stroke="#000" stroke-width="0.2" >10</text>
<line x1="447.80" y1="503.90" x2="474.30" y2="503.90" stroke="#606060" stroke-width="1.0" />
<text x="456.55" y="507.50" font-size="5.6" text-anchor="middle" font-weight="bold" fill="#000" stroke="#000" stroke-width="0.2" >+</text>
<line x1="439.00" y1="508.70" x2="474.00" y2="508.70" stroke="#8C8C8C" stroke-width="1.5" />
<text x="456.25" y="514.30" font-size="5.4" text-anchor="middle" font-weight="normal" fill="#000" stroke="#000" stroke-width="0.25" >2.5</text>
<text x="454.70" y="529.50" font-size="6.0" text-anchor="middle" font-weight="bold" fill="#22AA22" textLength="10.00" lengthAdjust="spacingAndGlyphs" transform="rotate(-90 454.70 529.50)" >0.65</text>
<text x="463.30" y="529.50" font-size="6.0" text-anchor="middle" font-weight="bold" fill="#22AA22" textLength="10.00" lengthAdjust="spacingAndGlyphs" transform="rotate(-90 463.30 529.50)" >0.56</text>
<text x="472.30" y="529.50" font-size="6.0" text-anchor="middle" font-weight="bold" fill="#22AA22" textLength="10.00" lengthAdjust="spacingAndGlyphs" transform="rotate(-90 472.30 529.50)" >0.94</text>
<line x1="494.45" y1="451.65" x2="494.45" y2="455.87" stroke="#000" stroke-width="0.9" />
<line x1="492.45" y1="451.65" x2="496.45" y2="451.65" stroke="#000" stroke-width="1.0" />
<circle cx="494.45" cy="448.30" r="1.45" fill="#000" />
<rect x="490.85" y="455.87" width="7.20" height="40.53" fill="#FF0000" stroke="#000" stroke-width="0.9" />
<text x="494.45" y="502.20" font-size="5.3" text-anchor="middle" font-weight="normal" fill="#999" stroke="#999" stroke-width="0.2" >—</text>
<circle cx="503.95" cy="471.10" r="1.45" fill="#000" />
<rect x="500.35" y="475.06" width="7.20" height="21.34" fill="url(#hr)" stroke="#000" stroke-width="0.9" />
<text x="503.95" y="502.20" font-size="5.3" text-anchor="middle" font-weight="normal" fill="#000" stroke="#000" stroke-width="0.2" >2.5</text>
<line x1="513.45" y1="479.57" x2="513.45" y2="483.87" stroke="#000" stroke-width="0.9" />
<line x1="511.45" y1="479.57" x2="515.45" y2="479.57" stroke="#000" stroke-width="1.0" />
<circle cx="513.45" cy="475.80" r="1.45" fill="#000" />
<rect x="509.85" y="483.87" width="7.20" height="12.53" fill="url(#hr)" stroke="#000" stroke-width="0.9" />
<text x="513.45" y="502.20" font-size="5.3" text-anchor="middle" font-weight="normal" fill="#000" stroke="#000" stroke-width="0.2" >5</text>
<circle cx="522.75" cy="479.30" r="1.45" fill="#000" />
<rect x="519.15" y="484.23" width="7.20" height="12.17" fill="url(#hr)" stroke="#000" stroke-width="0.9" />
<text x="522.75" y="502.20" font-size="5.3" text-anchor="middle" font-weight="normal" fill="#000" stroke="#000" stroke-width="0.2" >10</text>
<line x1="499.90" y1="503.90" x2="526.40" y2="503.90" stroke="#606060" stroke-width="1.0" />
<text x="508.65" y="507.50" font-size="5.6" text-anchor="middle" font-weight="bold" fill="#000" stroke="#000" stroke-width="0.2" >+</text>
<line x1="491.10" y1="508.70" x2="526.10" y2="508.70" stroke="#8C8C8C" stroke-width="1.5" />
<text x="508.35" y="514.30" font-size="5.4" text-anchor="middle" font-weight="normal" fill="#000" stroke="#000" stroke-width="0.25" >5</text>
<text x="505.30" y="529.50" font-size="6.0" text-anchor="middle" font-weight="bold" fill="#22AA22" textLength="10.00" lengthAdjust="spacingAndGlyphs" transform="rotate(-90 505.30 529.50)" >0.66</text>
<text x="514.70" y="529.50" font-size="6.0" text-anchor="middle" font-weight="bold" fill="#22AA22" textLength="10.00" lengthAdjust="spacingAndGlyphs" transform="rotate(-90 514.70 529.50)" >0.52</text>
<text x="523.90" y="529.50" font-size="6.0" text-anchor="middle" font-weight="bold" fill="#22AA22" textLength="10.00" lengthAdjust="spacingAndGlyphs" transform="rotate(-90 523.90 529.50)" >0.84</text>
<line x1="250.00" y1="520.60" x2="250.00" y2="520.60" stroke="#404040" stroke-width="1.5" />
<text x="527.50" y="502.20" font-size="6.6" text-anchor="start" font-weight="normal" fill="#000" stroke="#000" stroke-width="0.2" textLength="16.50" lengthAdjust="spacingAndGlyphs" >O [μM]</text>
<text x="527.50" y="514.00" font-size="6.6" text-anchor="start" font-weight="normal" fill="#000" stroke="#000" stroke-width="0.2" textLength="16.50" lengthAdjust="spacingAndGlyphs" >C[μM]</text>
<line x1="298.85" y1="366.40" x2="503.95" y2="366.40" stroke="#555" stroke-width="1.0" />
<line x1="298.85" y1="366.40" x2="298.85" y2="424.00" stroke="#555" stroke-width="1.0" />
<line x1="347.05" y1="366.40" x2="347.05" y2="375.70" stroke="#555" stroke-width="1.0" />
<line x1="399.55" y1="366.40" x2="399.55" y2="375.50" stroke="#555" stroke-width="1.0" />
<line x1="451.85" y1="366.40" x2="451.85" y2="375.50" stroke="#555" stroke-width="1.0" />
<line x1="503.95" y1="366.40" x2="503.95" y2="375.50" stroke="#555" stroke-width="1.0" />
<text x="401.50" y="365.10" font-size="7.6" text-anchor="middle" font-weight="bold" fill="#000" stroke="#000" stroke-width="0.3">+</text>
<line x1="310.15" y1="378.60" x2="513.45" y2="378.60" stroke="#555" stroke-width="1.0" />
<line x1="310.15" y1="378.60" x2="310.15" y2="437.00" stroke="#555" stroke-width="1.0" />
<line x1="356.55" y1="378.60" x2="356.55" y2="387.50" stroke="#555" stroke-width="1.0" />
<line x1="409.05" y1="378.60" x2="409.05" y2="388.20" stroke="#555" stroke-width="1.0" />
<line x1="461.35" y1="378.60" x2="461.35" y2="388.20" stroke="#555" stroke-width="1.0" />
<line x1="513.45" y1="378.60" x2="513.45" y2="388.20" stroke="#555" stroke-width="1.0" />
<text x="413.40" y="377.30" font-size="7.6" text-anchor="middle" font-weight="bold" fill="#000" stroke="#000" stroke-width="0.3">+</text>
<line x1="321.35" y1="393.40" x2="522.75" y2="393.40" stroke="#555" stroke-width="1.0" />
<line x1="321.35" y1="393.40" x2="321.35" y2="457.00" stroke="#555" stroke-width="1.0" />
<line x1="365.85" y1="393.40" x2="365.85" y2="476.10" stroke="#555" stroke-width="1.0" />
<line x1="418.35" y1="393.40" x2="418.35" y2="474.90" stroke="#555" stroke-width="1.0" />
<line x1="470.65" y1="393.40" x2="470.65" y2="473.90" stroke="#555" stroke-width="1.0" />
<line x1="522.75" y1="393.40" x2="522.75" y2="476.80" stroke="#555" stroke-width="1.0" />
<text x="423.10" y="392.10" font-size="7.6" text-anchor="middle" font-weight="bold" fill="#000" stroke="#000" stroke-width="0.3">+</text>
<line x1="337.55" y1="404.40" x2="365.85" y2="404.40" stroke="#555" stroke-width="1.0" />
<line x1="337.55" y1="404.40" x2="337.55" y2="411.10" stroke="#555" stroke-width="1.0" />
<text x="352.20" y="402.80" font-size="7.0" text-anchor="middle" font-weight="bold" fill="#000" stroke="#000" stroke-width="0.35">#</text>
<line x1="390.05" y1="404.40" x2="418.35" y2="404.40" stroke="#555" stroke-width="1.0" />
<line x1="390.05" y1="404.40" x2="390.05" y2="443.10" stroke="#555" stroke-width="1.0" />
<text x="404.70" y="402.80" font-size="7.0" text-anchor="middle" font-weight="bold" fill="#000" stroke="#000" stroke-width="0.35">#</text>
<line x1="442.35" y1="404.40" x2="470.65" y2="404.40" stroke="#555" stroke-width="1.0" />
<line x1="442.35" y1="404.40" x2="442.35" y2="447.50" stroke="#555" stroke-width="1.0" />
<text x="457.00" y="402.80" font-size="7.0" text-anchor="middle" font-weight="bold" fill="#000" stroke="#000" stroke-width="0.35">#</text>
<line x1="494.45" y1="404.40" x2="522.75" y2="404.40" stroke="#555" stroke-width="1.0" />
<line x1="494.45" y1="404.40" x2="494.45" y2="445.80" stroke="#555" stroke-width="1.0" />
<text x="509.10" y="402.80" font-size="7.0" text-anchor="middle" font-weight="bold" fill="#000" stroke="#000" stroke-width="0.35">#</text>
<line x1="347.05" y1="404.40" x2="347.05" y2="468.20" stroke="#555" stroke-width="1.0" />
<line x1="356.55" y1="404.40" x2="356.55" y2="475.40" stroke="#555" stroke-width="1.0" />
<line x1="409.05" y1="404.40" x2="409.05" y2="474.40" stroke="#555" stroke-width="1.0" />
<line x1="461.35" y1="404.40" x2="461.35" y2="477.00" stroke="#555" stroke-width="1.0" />
<line x1="513.45" y1="404.40" x2="513.45" y2="473.30" stroke="#555" stroke-width="1.0" />
</svg></body></html>
